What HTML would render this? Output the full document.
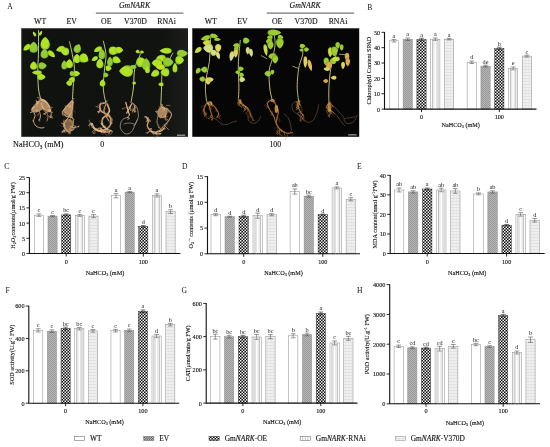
<!DOCTYPE html>
<html><head><meta charset="utf-8"><style>
html,body{margin:0;padding:0;background:#fff;width:550px;height:447px;overflow:hidden}
svg{display:block}
text{font-family:'Liberation Serif','Times New Roman',serif;fill:#111;stroke:#111;stroke-width:0.12px}
.tk{font-size:6.2px}
.sm{font-size:6.2px;stroke:none;fill:#1a1a1a}
.pl{font-size:7.6px;stroke:none}
.hd{font-size:7.8px}
.lg{font-size:7.4px}
</style></head><body>
<svg width="550" height="447" viewBox="0 0 550 447">

<defs>
<pattern id="pWT" width="4" height="4" patternUnits="userSpaceOnUse"><rect width="4" height="4" fill="#fff"/></pattern>
<pattern id="pEV" width="2" height="2" patternUnits="userSpaceOnUse"><rect width="2" height="2" fill="#b6b6b6"/><rect width="1" height="1" fill="#989898"/><rect x="1" y="1" width="1" height="1" fill="#989898"/></pattern>
<pattern id="pOE" width="3" height="3" patternUnits="userSpaceOnUse"><rect width="3" height="3" fill="#0a0a0a"/><rect width="1.5" height="1.5" fill="#f4f4f4"/><rect x="1.5" y="1.5" width="1.5" height="1.5" fill="#f4f4f4"/></pattern>
<pattern id="pEVL" width="1.6" height="1.6" patternUnits="userSpaceOnUse" patternTransform="rotate(45)"><rect width="1.6" height="1.6" fill="#c8c8c8"/><rect width="0.8" height="1.6" fill="#555"/></pattern>
<pattern id="pRN" width="9.8" height="4" patternUnits="userSpaceOnUse" x="0"><rect width="9.8" height="4" fill="#fff"/></pattern>
<pattern id="pVD" width="3" height="3" patternUnits="userSpaceOnUse"><rect width="3" height="3" fill="#f0f0f0"/><rect width="3" height="0.6" fill="#d8d8d8"/><rect width="0.5" height="3" fill="#e4e4e4"/></pattern>
</defs>

<defs>
<radialGradient id="lgC" cx="50%" cy="45%" r="60%"><stop offset="0" stop-color="#b0e228"/><stop offset="0.6" stop-color="#b0e228"/><stop offset="1" stop-color="#74ac18"/></radialGradient>
<radialGradient id="lgC2" cx="50%" cy="45%" r="60%"><stop offset="0" stop-color="#94cc34"/><stop offset="0.6" stop-color="#94cc34"/><stop offset="1" stop-color="#5a961e"/></radialGradient>
<radialGradient id="lgCY" cx="50%" cy="45%" r="60%"><stop offset="0" stop-color="#c4e61c"/><stop offset="0.6" stop-color="#c4e61c"/><stop offset="1" stop-color="#8cb410"/></radialGradient>
<radialGradient id="lgG" cx="50%" cy="45%" r="60%"><stop offset="0" stop-color="#9ccc30"/><stop offset="0.6" stop-color="#9ccc30"/><stop offset="1" stop-color="#5e8c18"/></radialGradient>
<radialGradient id="lgYG" cx="50%" cy="45%" r="60%"><stop offset="0" stop-color="#c8dc3c"/><stop offset="0.6" stop-color="#c8dc3c"/><stop offset="1" stop-color="#8c9a20"/></radialGradient>
<radialGradient id="lgY" cx="50%" cy="45%" r="60%"><stop offset="0" stop-color="#dcd660"/><stop offset="0.6" stop-color="#dcd660"/><stop offset="1" stop-color="#a09830"/></radialGradient>
<radialGradient id="lgPY" cx="50%" cy="45%" r="60%"><stop offset="0" stop-color="#d6de84"/><stop offset="0.6" stop-color="#d6de84"/><stop offset="1" stop-color="#a0a850"/></radialGradient>
<radialGradient id="lgO" cx="50%" cy="45%" r="60%"><stop offset="0" stop-color="#d8ac50"/><stop offset="0.6" stop-color="#d8ac50"/><stop offset="1" stop-color="#a07428"/></radialGradient>
<radialGradient id="lgYO" cx="50%" cy="45%" r="60%"><stop offset="0" stop-color="#dcbc5c"/><stop offset="0.6" stop-color="#dcbc5c"/><stop offset="1" stop-color="#a88030"/></radialGradient>
<filter id="soft" x="-5%" y="-5%" width="110%" height="110%"><feGaussianBlur stdDeviation="0.42"/></filter>
<filter id="rootblur" x="-20%" y="-20%" width="140%" height="140%"><feGaussianBlur stdDeviation="0.35"/></filter>
</defs>
<linearGradient id="bg1" x1="0" x2="1" y1="0" y2="0"><stop offset="0" stop-color="#141614"/><stop offset="0.08" stop-color="#0f120f"/><stop offset="0.85" stop-color="#111311"/><stop offset="1" stop-color="#1c1e1c"/></linearGradient>
<rect x="21.3" y="28.2" width="166.7" height="108.6" fill="url(#bg1)"/>
<rect x="192.3" y="28.2" width="166.9" height="108.6" fill="#060607"/>
<path d="M21.3 28.6H188M192.3 28.6H359.2" stroke="#5a5a5a" stroke-width="0.8"/>
<g filter="url(#soft)">
<g filter="url(#rootblur)">
<path d="M40.8 99C41.42 99.13 43.22 99.05 44.5 99.8C45.78 100.55 47.42 102.05 48.5 103.5C49.58 104.95 50.67 107.08 51 108.5C51.33 109.92 51.25 111.5 50.5 112C49.75 112.5 47.75 111.92 46.5 111.5C45.25 111.08 44.25 109.5 43 109.5C41.75 109.5 40.42 111 39 111.5C37.58 112 35.8 112.58 34.5 112.5C33.2 112.42 31.53 111.92 31.2 111C30.87 110.08 31.62 108.42 32.5 107C33.38 105.58 35.12 103.83 36.5 102.5C37.88 101.17 40.08 99.58 40.8 99Z" fill="#c89c6e" opacity="0.85"/>
<path d="M33 111C33.33 111.75 34.92 113.83 35 115.5C35.08 117.17 33.33 119.25 33.5 121C33.67 122.75 34.75 124.83 36 126C37.25 127.17 39.67 127.75 41 128C42.33 128.25 43.5 127.58 44 127.5" stroke="#d4a474" stroke-width="1" fill="none" stroke-linecap="round"/>
<path d="M39.5 111.5C39.67 112.25 40.5 114.58 40.5 116C40.5 117.42 39.67 119.33 39.5 120" stroke="#d4a474" stroke-width="0.9" fill="none" stroke-linecap="round"/>
<path d="M46 111.5C46.33 112.25 47.83 114.42 48 116C48.17 117.58 47.17 120.17 47 121" stroke="#bc8e62" stroke-width="0.9" fill="none" stroke-linecap="round"/>
<path d="M50.5 110C50.67 110.75 51.58 113.17 51.5 114.5C51.42 115.83 50.25 117.42 50 118" stroke="#bc8e62" stroke-width="0.8" fill="none" stroke-linecap="round"/>
<path d="M40.8 99C40.33 99.67 38.97 101.83 38 103C37.03 104.17 36 105 35 106C34 107 32.5 108.5 32 109" stroke="#e0b684" stroke-width="1.1" fill="none" stroke-linecap="round"/>
<path d="M41 99C41.67 99.33 43.67 99.83 45 101C46.33 102.17 48.08 104.33 49 106C49.92 107.67 50.25 110.17 50.5 111" stroke="#e0b684" stroke-width="1.1" fill="none" stroke-linecap="round"/>
<path d="M41 99.5C41.08 100.25 41.17 102.58 41.5 104C41.83 105.42 42.75 107.33 43 108" stroke="#e0b684" stroke-width="1" fill="none" stroke-linecap="round"/>
<path d="M48.37 117C48.05 116.82 46.49 115.96 46.45 115.92C46.41 115.88 47.64 116.63 48.12 116.76C48.6 116.88 49.14 116.68 49.34 116.66" stroke="#6a4a30" stroke-width="0.83" fill="none" stroke-linecap="round" opacity="0.9"/>
<path d="M38.2 110.88C37.84 110.73 36.27 110.09 36.02 109.97C35.77 109.85 36.55 109.8 36.7 110.15C36.85 110.51 36.89 111.79 36.93 112.12" stroke="#e0b888" stroke-width="0.77" fill="none" stroke-linecap="round" opacity="0.9"/>
<path d="M45.77 101.04C45.43 101.16 44.34 101.77 43.7 101.75C43.07 101.73 42.42 101.22 41.98 100.92C41.54 100.62 41.21 100.11 41.06 99.95" stroke="#e0b888" stroke-width="0.83" fill="none" stroke-linecap="round" opacity="0.9"/>
<path d="M32.14 112.28C31.81 112.29 30.35 112.31 30.17 112.36C30 112.41 30.89 112.63 31.09 112.58C31.29 112.54 31.33 112.15 31.38 112.06" stroke="#eac494" stroke-width="0.6" fill="none" stroke-linecap="round" opacity="0.9"/>
<path d="M40.5 100.39C40.69 100.26 41.63 99.87 41.63 99.59C41.64 99.32 41.03 98.63 40.52 98.74C40.01 98.85 38.9 100 38.58 100.25" stroke="#d0a070" stroke-width="0.76" fill="none" stroke-linecap="round" opacity="0.9"/>
<path d="M50.34 109.07C50.51 108.95 51.09 108.58 51.36 108.32C51.64 108.06 51.95 107.73 51.99 107.51C52.04 107.3 51.7 107.12 51.65 107.04" stroke="#eac494" stroke-width="0.84" fill="none" stroke-linecap="round" opacity="0.9"/>
<path d="M48.93 106.85C48.58 106.75 46.8 106.24 46.82 106.29C46.83 106.33 48.58 107.17 49 107.13C49.42 107.1 49.28 106.25 49.34 106.08" stroke="#d0a070" stroke-width="0.55" fill="none" stroke-linecap="round" opacity="0.9"/>
<path d="M36.53 103.33C36.77 103.35 38.05 103.51 37.98 103.44C37.91 103.38 36.32 103.23 36.11 102.95C35.9 102.68 36.61 102 36.71 101.81" stroke="#eac494" stroke-width="0.62" fill="none" stroke-linecap="round" opacity="0.9"/>
<path d="M49.88 108.76C50.13 108.64 51.18 107.99 51.34 108.02C51.5 108.06 51.07 108.87 50.84 108.96C50.62 109.04 50.15 108.6 50.01 108.53" stroke="#6a4a30" stroke-width="0.56" fill="none" stroke-linecap="round" opacity="0.9"/>
<path d="M49.48 110.39C49.51 110.58 49.76 111.26 49.71 111.52C49.67 111.79 49.61 112.06 49.22 111.96C48.83 111.86 47.68 111.1 47.37 110.92" stroke="#e0b888" stroke-width="0.47" fill="none" stroke-linecap="round" opacity="0.9"/>
<path d="M37.22 103.61C37.04 103.88 36.25 104.98 36.15 105.21C36.04 105.45 36.74 104.84 36.57 105.01C36.4 105.19 35.38 106.05 35.14 106.26" stroke="#e0b888" stroke-width="0.51" fill="none" stroke-linecap="round" opacity="0.9"/>
<path d="M50.68 113.06C50.76 113.02 50.79 112.94 51.18 112.81C51.57 112.68 53.07 112.44 53.02 112.3C52.97 112.17 51.24 112.07 50.89 112.02" stroke="#bc9266" stroke-width="0.56" fill="none" stroke-linecap="round" opacity="0.9"/>
<path d="M32.53 120.61C32.58 120.48 32.89 119.67 32.85 119.85C32.8 120.03 31.99 121.21 32.24 121.68C32.49 122.16 34 122.54 34.35 122.72" stroke="#6a4a30" stroke-width="0.71" fill="none" stroke-linecap="round" opacity="0.9"/>
<path d="M39.77 121.27C39.75 121.27 39.82 121.46 39.66 121.29C39.5 121.11 38.9 120.54 38.83 120.2C38.76 119.86 39.19 119.41 39.26 119.25" stroke="#e0b888" stroke-width="0.78" fill="none" stroke-linecap="round" opacity="0.9"/>
<path d="M43.91 99.72C43.88 99.73 44.07 99.43 43.7 99.77C43.33 100.11 41.86 101.55 41.7 101.75C41.54 101.95 42.57 101.12 42.74 100.99" stroke="#eac494" stroke-width="0.61" fill="none" stroke-linecap="round" opacity="0.9"/>
<path d="M46.42 110.23C46.68 110.57 48.07 111.83 47.99 112.24C47.91 112.66 46.63 112.48 45.93 112.74C45.22 113 44.15 113.62 43.79 113.79" stroke="#bc9266" stroke-width="0.71" fill="none" stroke-linecap="round" opacity="0.9"/>
<path d="M39.52 97.77C39.23 97.72 38.17 97.51 37.83 97.45C37.48 97.38 37.2 97.19 37.46 97.37C37.71 97.55 39.05 98.34 39.37 98.53" stroke="#bc9266" stroke-width="0.65" fill="none" stroke-linecap="round" opacity="0.9"/>
<path d="M35.61 105.94C35.62 105.92 35.97 106.01 35.67 105.8C35.38 105.59 33.83 105 33.86 104.67C33.89 104.35 35.54 103.99 35.87 103.86" stroke="#6a4a30" stroke-width="0.75" fill="none" stroke-linecap="round" opacity="0.9"/>
<path d="M45.77 110.03C45.62 110.22 45.26 111.06 44.89 111.14C44.53 111.22 43.5 110.45 43.58 110.52C43.66 110.59 45.07 111.39 45.37 111.56" stroke="#bc9266" stroke-width="0.67" fill="none" stroke-linecap="round" opacity="0.9"/>
<path d="M40.28 99.5C40.06 99.54 38.95 99.4 38.95 99.76C38.96 100.12 39.8 101.34 40.3 101.67C40.8 102.01 41.69 101.76 41.97 101.78" stroke="#6a4a30" stroke-width="0.86" fill="none" stroke-linecap="round" opacity="0.9"/>
<path d="M50.41 114.49C50.66 114.77 51.49 115.56 51.89 116.18C52.29 116.79 52.83 117.97 52.82 118.21C52.81 118.44 52 117.68 51.84 117.58" stroke="#bc9266" stroke-width="0.66" fill="none" stroke-linecap="round" opacity="0.9"/>
<path d="M42.98 106.82C43.07 106.9 43.58 106.94 43.54 107.3C43.49 107.66 42.5 108.62 42.72 108.95C42.94 109.29 44.49 109.24 44.84 109.29" stroke="#e0b888" stroke-width="0.82" fill="none" stroke-linecap="round" opacity="0.9"/>
<path d="M36.12 104.62C36.27 104.75 37.02 104.99 37.04 105.36C37.05 105.74 36.69 106.73 36.2 106.86C35.7 106.98 34.43 106.24 34.08 106.12" stroke="#bc9266" stroke-width="0.54" fill="none" stroke-linecap="round" opacity="0.9"/>
<path d="M37.49 101.71C37.23 101.54 36.08 100.79 35.91 100.67C35.74 100.55 36.29 100.77 36.48 100.99C36.67 101.21 36.95 101.85 37.05 102.02" stroke="#eac494" stroke-width="0.88" fill="none" stroke-linecap="round" opacity="0.9"/>
<path d="M45.59 112.47C45.42 112.68 44.51 113.39 44.52 113.7C44.53 114.01 45.8 114.29 45.64 114.32C45.49 114.35 43.94 113.96 43.6 113.89" stroke="#eac494" stroke-width="0.69" fill="none" stroke-linecap="round" opacity="0.9"/>
<path d="M39 112.99C38.75 113.27 37.61 114.47 37.5 114.68C37.4 114.88 38.3 114 38.38 114.24C38.46 114.47 38.05 115.77 37.99 116.07" stroke="#bc9266" stroke-width="0.51" fill="none" stroke-linecap="round" opacity="0.9"/>
<path d="M50.09 109.66C49.73 109.77 48.17 110.14 47.92 110.33C47.67 110.53 48.25 110.76 48.59 110.84C48.94 110.92 49.76 110.81 50 110.81" stroke="#eac494" stroke-width="0.74" fill="none" stroke-linecap="round" opacity="0.9"/>
<path d="M50.3 115.6C50.52 115.92 51.67 117.28 51.61 117.54C51.55 117.8 50.31 117.38 49.95 117.16C49.6 116.95 49.55 116.41 49.47 116.26" stroke="#eac494" stroke-width="0.69" fill="none" stroke-linecap="round" opacity="0.9"/>
</g>
<path d="M38.6 30C38.57 34.13 38.53 48.42 38.4 54.8C38.27 61.18 37.8 62.77 37.8 68.3C37.8 73.83 37.92 82.88 38.4 88C38.88 93.12 40.32 97.17 40.7 99" stroke="#c0c880" stroke-width="1.0" fill="none"/>
<path d="M-2.8 0C-2.8 -1.82 0.98 -1.82 2.8 0C0.98 1.82 -2.8 1.82 -2.8 0Z" transform="translate(34.4 33.8) rotate(-120)" fill="url(#lgC)"/>
<path d="M-2.8 0C-2.8 -1.82 0.98 -1.82 2.8 0C0.98 1.82 -2.8 1.82 -2.8 0Z" transform="translate(40.7 33.1) rotate(-60)" fill="url(#lgC)"/>
<path d="M-4.48 0C-4.48 -3.5 1.57 -3.5 4.48 0C1.57 3.5 -4.48 3.5 -4.48 0Z" transform="translate(26.8 47.6) rotate(140)" fill="url(#lgC)"/>
<path d="M-5.71 0C-5.71 -5.81 2 -5.81 5.71 0C2 5.81 -5.71 5.81 -5.71 0Z" transform="translate(33.7 47.1) rotate(-90)" fill="url(#lgC2)"/>
<path d="M-6.44 0C-6.44 -6.3 2.25 -6.3 6.44 0C2.25 6.3 -6.44 6.3 -6.44 0Z" transform="translate(45.2 43.3) rotate(-90)" fill="url(#lgC)"/>
<path d="M-4.98 0C-4.98 -5.32 1.74 -5.32 4.98 0C1.74 5.32 -4.98 5.32 -4.98 0Z" transform="translate(44.5 53.5) rotate(-90)" fill="url(#lgC2)"/>
<path d="M-4.65 0C-4.65 -3.5 1.63 -3.5 4.65 0C1.63 3.5 -4.65 3.5 -4.65 0Z" transform="translate(51.5 54.1) rotate(40)" fill="url(#lgC)"/>
<path d="M-4.26 0C-4.26 -4.9 1.49 -4.9 4.26 0C1.49 4.9 -4.26 4.9 -4.26 0Z" transform="translate(33.7 65.5) rotate(-90)" fill="url(#lgC)"/>
<path d="M-4.26 0C-4.26 -4.9 1.49 -4.9 4.26 0C1.49 4.9 -4.26 4.9 -4.26 0Z" transform="translate(42.6 65.8) rotate(0)" fill="url(#lgC2)"/>
<path d="M-4.98 0C-4.98 -3.15 1.74 -3.15 4.98 0C1.74 3.15 -4.98 3.15 -4.98 0Z" transform="translate(36.9 72.5) rotate(180)" fill="url(#lgC)"/>
<path d="M-4.26 0C-4.26 -4.2 1.49 -4.2 4.26 0C1.49 4.2 -4.26 4.2 -4.26 0Z" transform="translate(41.4 77) rotate(0)" fill="url(#lgC)"/>
<g filter="url(#rootblur)">
<path d="M72.3 100C72.58 100.33 73.97 100.67 74 102C74.03 103.33 72.7 106.17 72.5 108C72.3 109.83 72.88 111.42 72.8 113C72.72 114.58 72.8 117 72 117.5C71.2 118 69.33 116.75 68 116C66.67 115.25 64.87 113.83 64 113C63.13 112.17 62.47 112.17 62.8 111C63.13 109.83 64.42 107.83 66 106C67.58 104.17 71.25 101 72.3 100Z" fill="#c89c6e" opacity="0.85"/>
<path d="M65 120C65.83 119.83 68.58 118.67 70 119C71.42 119.33 73 120.5 73.5 122C74 123.5 73.67 126.33 73 128C72.33 129.67 70.83 131.67 69.5 132C68.17 132.33 66 131.17 65 130C64 128.83 63.5 126.67 63.5 125C63.5 123.33 64.75 120.83 65 120Z" fill="#c09468" opacity="0.65"/>
<path d="M73.7 98.6C72.92 99.5 70.53 102.27 69 104C67.47 105.73 65.58 107.58 64.5 109C63.42 110.42 62.25 111.33 62.5 112.5C62.75 113.67 64.42 115.17 66 116C67.58 116.83 71 117.25 72 117.5" stroke="#e0b684" stroke-width="1" fill="none" stroke-linecap="round"/>
<path d="M72.3 100.5C72.38 101.42 72.93 104.08 72.8 106C72.67 107.92 72.3 110 71.5 112C70.7 114 69.08 116.33 68 118C66.92 119.67 65.67 120.67 65 122C64.33 123.33 63.75 124.67 64 126C64.25 127.33 65.67 128.92 66.5 130C67.33 131.08 68.58 132.08 69 132.5" stroke="#d4a474" stroke-width="1.1" fill="none" stroke-linecap="round"/>
<path d="M72 117C72.25 117.67 73.5 119.5 73.5 121C73.5 122.5 72.67 124.5 72 126C71.33 127.5 69.92 129.33 69.5 130" stroke="#bc8e62" stroke-width="1" fill="none" stroke-linecap="round"/>
<path d="M64 120C63.92 120.83 63.33 123.5 63.5 125C63.67 126.5 64.75 128.33 65 129" stroke="#bc8e62" stroke-width="0.9" fill="none" stroke-linecap="round"/>
<path d="M70 126.5C70.67 126.67 72.58 127.5 74 127.5C75.42 127.5 77.75 126.67 78.5 126.5" stroke="#b09880" stroke-width="0.9" fill="none" stroke-linecap="round"/>
<path d="M66 129.5C66.67 129.83 68.67 131.58 70 131.5C71.33 131.42 73.33 129.42 74 129" stroke="#bc8e62" stroke-width="0.8" fill="none" stroke-linecap="round"/>
<path d="M70.54 127.39C70.24 127.71 68.8 128.82 68.73 129.32C68.66 129.81 70.1 129.83 70.14 130.37C70.17 130.9 69.12 132.17 68.92 132.53" stroke="#bc9266" stroke-width="0.88" fill="none" stroke-linecap="round" opacity="0.9"/>
<path d="M73.28 107.41C73.31 107.71 73.38 108.56 73.46 109.21C73.53 109.87 73.39 110.86 73.71 111.33C74.04 111.8 75.13 111.9 75.41 112.02" stroke="#6a4a30" stroke-width="0.82" fill="none" stroke-linecap="round" opacity="0.9"/>
<path d="M70.32 132C70.3 132.15 70.18 132.57 70.19 132.88C70.2 133.18 70.65 133.78 70.37 133.85C70.09 133.93 68.84 133.4 68.53 133.31" stroke="#eac494" stroke-width="0.61" fill="none" stroke-linecap="round" opacity="0.9"/>
<path d="M79.6 126.16C79.46 126.1 79.02 125.86 78.76 125.81C78.5 125.77 78.1 125.63 78.04 125.88C77.97 126.12 78.31 127.04 78.36 127.28" stroke="#d0a070" stroke-width="0.46" fill="none" stroke-linecap="round" opacity="0.9"/>
<path d="M66.37 113.64C66.02 113.82 64.97 114.64 64.28 114.74C63.6 114.84 62.53 114.09 62.27 114.23C62.02 114.38 62.67 115.37 62.75 115.59" stroke="#d0a070" stroke-width="0.53" fill="none" stroke-linecap="round" opacity="0.9"/>
<path d="M65.32 105.8C65.32 105.94 65.15 106.42 65.31 106.65C65.48 106.88 66.24 107.11 66.31 107.2C66.38 107.28 65.82 107.16 65.73 107.15" stroke="#bc9266" stroke-width="0.66" fill="none" stroke-linecap="round" opacity="0.9"/>
<path d="M64.57 124.22C64.92 124.28 66.32 124.63 66.72 124.6C67.11 124.57 66.7 124.19 66.93 124.02C67.16 123.85 67.91 123.64 68.1 123.57" stroke="#6a4a30" stroke-width="0.45" fill="none" stroke-linecap="round" opacity="0.9"/>
<path d="M70.75 130.9C70.51 131.15 69.57 132.22 69.34 132.41C69.1 132.6 69.62 132.1 69.34 132.05C69.06 131.99 67.93 132.07 67.65 132.08" stroke="#6a4a30" stroke-width="0.68" fill="none" stroke-linecap="round" opacity="0.9"/>
<path d="M70.28 105.15C70.41 105.1 71.18 104.69 71.02 104.9C70.87 105.1 69.62 106.04 69.34 106.36C69.07 106.68 69.35 106.75 69.35 106.83" stroke="#eac494" stroke-width="0.57" fill="none" stroke-linecap="round" opacity="0.9"/>
<path d="M64.83 130.72C64.8 130.87 64.98 131.48 64.61 131.61C64.24 131.75 62.68 131.39 62.61 131.54C62.54 131.69 63.94 132.35 64.21 132.51" stroke="#bc9266" stroke-width="0.77" fill="none" stroke-linecap="round" opacity="0.9"/>
<path d="M69.7 132.56C69.36 132.37 68.32 131.46 67.63 131.38C66.94 131.29 66.07 132.08 65.55 132.07C65.03 132.07 64.69 131.46 64.52 131.34" stroke="#d0a070" stroke-width="0.65" fill="none" stroke-linecap="round" opacity="0.9"/>
<path d="M62.68 112.87C62.99 113.22 64.03 114.56 64.53 114.94C65.03 115.33 65.42 114.82 65.67 115.17C65.93 115.51 66 116.72 66.06 117.03" stroke="#d0a070" stroke-width="0.71" fill="none" stroke-linecap="round" opacity="0.9"/>
<path d="M75.44 127.91C75.36 127.81 74.88 127.48 74.93 127.26C74.99 127.04 75.97 126.88 75.76 126.59C75.56 126.3 74.04 125.7 73.7 125.52" stroke="#e0b888" stroke-width="0.86" fill="none" stroke-linecap="round" opacity="0.9"/>
<path d="M61.9 112.28C62.11 112.48 63.2 113.34 63.19 113.5C63.17 113.65 61.83 113.07 61.82 113.22C61.81 113.36 62.89 114.16 63.11 114.35" stroke="#bc9266" stroke-width="0.73" fill="none" stroke-linecap="round" opacity="0.9"/>
<path d="M71.94 106.3C72.07 106.43 72.91 106.94 72.72 107.07C72.54 107.2 71.46 107.09 70.84 107.08C70.22 107.07 69.31 107.02 69 107.01" stroke="#e0b888" stroke-width="0.77" fill="none" stroke-linecap="round" opacity="0.9"/>
<path d="M64.09 125.78C64.2 126.11 64.77 127.61 64.79 127.76C64.81 127.9 64.3 126.79 64.2 126.66C64.09 126.53 64.15 126.92 64.14 126.97" stroke="#d0a070" stroke-width="0.48" fill="none" stroke-linecap="round" opacity="0.9"/>
<path d="M72.02 107.22C71.9 107.55 71.75 108.88 71.26 109.22C70.78 109.56 69.62 109.33 69.1 109.25C68.58 109.17 68.29 108.82 68.13 108.73" stroke="#bc9266" stroke-width="0.58" fill="none" stroke-linecap="round" opacity="0.9"/>
<path d="M65.26 113C65.4 112.9 66.01 112.32 66.13 112.36C66.25 112.39 65.75 113.13 65.97 113.22C66.2 113.3 67.23 112.93 67.48 112.87" stroke="#bc9266" stroke-width="0.8" fill="none" stroke-linecap="round" opacity="0.9"/>
<path d="M63.5 111.68C63.52 111.91 63.71 112.66 63.66 113.07C63.61 113.48 63.16 113.63 63.2 114.16C63.24 114.69 63.8 115.92 63.92 116.27" stroke="#6a4a30" stroke-width="0.71" fill="none" stroke-linecap="round" opacity="0.9"/>
<path d="M63.05 125.7C62.92 125.78 62.5 126.14 62.27 126.2C62.04 126.25 62.03 126.14 61.66 126.04C61.29 125.94 60.32 125.68 60.05 125.61" stroke="#6a4a30" stroke-width="0.51" fill="none" stroke-linecap="round" opacity="0.9"/>
<path d="M70.64 118.41C70.48 118.74 69.78 120.04 69.69 120.39C69.61 120.74 69.78 120.19 70.13 120.52C70.48 120.85 71.5 122.06 71.77 122.37" stroke="#eac494" stroke-width="0.52" fill="none" stroke-linecap="round" opacity="0.9"/>
<path d="M72.42 127.03C72.5 127.27 72.88 128.1 72.9 128.49C72.92 128.89 72.75 129.21 72.51 129.4C72.28 129.58 71.65 129.55 71.47 129.58" stroke="#bc9266" stroke-width="0.67" fill="none" stroke-linecap="round" opacity="0.9"/>
<path d="M64.7 130.92C64.46 130.84 63.67 130.15 63.25 130.42C62.82 130.69 62.33 132.34 62.17 132.52C62 132.7 62.25 131.67 62.27 131.5" stroke="#eac494" stroke-width="0.89" fill="none" stroke-linecap="round" opacity="0.9"/>
<path d="M72.42 126.91C72.68 127.18 73.97 127.97 74.02 128.54C74.08 129.11 73.31 130.06 72.75 130.34C72.19 130.61 71.01 130.21 70.66 130.18" stroke="#e0b888" stroke-width="0.81" fill="none" stroke-linecap="round" opacity="0.9"/>
<path d="M65.49 130.65C65.34 130.56 64.98 130.21 64.59 130.09C64.21 129.98 63.17 129.83 63.2 129.95C63.24 130.08 64.53 130.67 64.8 130.82" stroke="#e0b888" stroke-width="0.61" fill="none" stroke-linecap="round" opacity="0.9"/>
<path d="M72.11 117.35C72.13 117.51 71.99 118.1 72.23 118.36C72.47 118.62 73.23 118.73 73.55 118.88C73.87 119.03 74.05 119.2 74.15 119.27" stroke="#bc9266" stroke-width="0.83" fill="none" stroke-linecap="round" opacity="0.9"/>
<path d="M73.55 122.65C73.39 122.97 72.74 123.98 72.58 124.59C72.41 125.2 72.4 125.67 72.54 126.3C72.67 126.93 73.24 128.01 73.38 128.35" stroke="#bc9266" stroke-width="0.7" fill="none" stroke-linecap="round" opacity="0.9"/>
<path d="M63.82 125.76C64.07 125.63 65.39 125.27 65.31 125C65.24 124.74 64.02 124.48 63.39 124.17C62.76 123.86 61.86 123.33 61.56 123.16" stroke="#e0b888" stroke-width="0.87" fill="none" stroke-linecap="round" opacity="0.9"/>
</g>
<path d="M69.4 41.4C69.9 43.63 71.57 50.33 72.4 54.8C73.23 59.27 74.28 62.67 74.4 68.2C74.52 73.73 73.42 82.87 73.1 88C72.78 93.13 72.6 97.17 72.5 99" stroke="#c0c880" stroke-width="1.0" fill="none"/>
<path d="M-4.65 0C-4.65 -3.99 1.63 -3.99 4.65 0C1.63 3.99 -4.65 3.99 -4.65 0Z" transform="translate(60.5 49) rotate(165)" fill="url(#lgC)"/>
<path d="M-4.26 0C-4.26 -5.32 1.49 -5.32 4.26 0C1.49 5.32 -4.26 5.32 -4.26 0Z" transform="translate(64.9 51.5) rotate(180)" fill="url(#lgC)"/>
<path d="M-4.65 0C-4.65 -4.9 1.63 -4.9 4.65 0C1.63 4.9 -4.65 4.9 -4.65 0Z" transform="translate(77.6 48.4) rotate(-70)" fill="url(#lgC2)"/>
<path d="M-4.65 0C-4.65 -4.9 1.63 -4.9 4.65 0C1.63 4.9 -4.65 4.9 -4.65 0Z" transform="translate(77 58.5) rotate(-90)" fill="url(#lgC)"/>
<path d="M-4.98 0C-4.98 -6.23 1.74 -6.23 4.98 0C1.74 6.23 -4.98 6.23 -4.98 0Z" transform="translate(84 58.5) rotate(30)" fill="url(#lgC)"/>
<path d="M-4.65 0C-4.65 -3.99 1.63 -3.99 4.65 0C1.63 3.99 -4.65 3.99 -4.65 0Z" transform="translate(64.3 64.9) rotate(-90)" fill="url(#lgC2)"/>
<path d="M-4.65 0C-4.65 -4.9 1.63 -4.9 4.65 0C1.63 4.9 -4.65 4.9 -4.65 0Z" transform="translate(69.4 63.6) rotate(-90)" fill="url(#lgC)"/>
<path d="M-3.64 0C-3.64 -3.85 1.27 -3.85 3.64 0C1.27 3.85 -3.64 3.85 -3.64 0Z" transform="translate(76.5 73.6) rotate(0)" fill="url(#lgC)"/>
<path d="M-2.8 0C-2.8 -3.5 0.98 -3.5 2.8 0C0.98 3.5 -2.8 3.5 -2.8 0Z" transform="translate(72.4 73.6) rotate(0)" fill="url(#lgC2)"/>
<path d="M-3.08 0C-3.08 -3.85 1.08 -3.85 3.08 0C1.08 3.85 -3.08 3.85 -3.08 0Z" transform="translate(71.8 79.6) rotate(180)" fill="url(#lgC)"/>
<path d="M-3.08 0C-3.08 -3.85 1.08 -3.85 3.08 0C1.08 3.85 -3.08 3.85 -3.08 0Z" transform="translate(69.1 83) rotate(180)" fill="url(#lgC)"/>
<g filter="url(#rootblur)">
<path d="M105.9 103C105.08 103.08 102.02 102.83 101 103.5C99.98 104.17 99.8 105.75 99.8 107C99.8 108.25 99.97 109.83 101 111C102.03 112.17 104.5 113 106 114C107.5 115 109.17 115.67 110 117C110.83 118.33 111.17 120.33 111 122C110.83 123.67 110.17 125.67 109 127C107.83 128.33 106 129.5 104 130C102 130.5 98.92 130.58 97 130C95.08 129.42 93.5 127.58 92.5 126.5C91.5 125.42 91.25 124 91 123.5" stroke="#d4a474" stroke-width="1.59" fill="none" stroke-linecap="round"/>
<path d="M105.9 103C106.25 103.5 107.4 104.67 108 106C108.6 107.33 109.67 109.5 109.5 111C109.33 112.5 108.08 113.83 107 115C105.92 116.17 103.83 116.67 103 118C102.17 119.33 101.83 121.5 102 123C102.17 124.5 102.67 125.75 104 127C105.33 128.25 109 129.92 110 130.5" stroke="#e0b684" stroke-width="1.45" fill="none" stroke-linecap="round"/>
<path d="M92 124C92.5 124.83 93.33 127.75 95 129C96.67 130.25 99.5 131.17 102 131.5C104.5 131.83 108.67 131.08 110 131" stroke="#e0b684" stroke-width="1.89" fill="none" stroke-linecap="round"/>
<path d="M106 104C105.67 105 104 108 104 110C104 112 105.17 114.17 106 116C106.83 117.83 108.5 120.17 109 121" stroke="#bc8e62" stroke-width="1.16" fill="none" stroke-linecap="round"/>
<path d="M100 128C100.67 128.63 102.67 131.13 104 131.8C105.33 132.47 107.33 131.97 108 132" stroke="#d4a474" stroke-width="1.45" fill="none" stroke-linecap="round"/>
<path d="M103.37 131.23C103.59 131.53 104.37 132.57 104.7 133.05C105.03 133.54 104.99 133.78 105.37 134.12C105.75 134.46 106.72 134.94 106.99 135.1" stroke="#d0a070" stroke-width="0.51" fill="none" stroke-linecap="round" opacity="0.9"/>
<path d="M103.04 123.73C102.69 123.61 101.18 122.73 100.97 122.96C100.76 123.2 101.28 124.52 101.78 125.16C102.28 125.8 103.59 126.52 103.95 126.79" stroke="#e0b888" stroke-width="0.84" fill="none" stroke-linecap="round" opacity="0.9"/>
<path d="M105.17 109.29C105.13 109.33 105.25 109.23 104.95 109.57C104.65 109.92 103.73 111.12 103.36 111.35C102.99 111.58 102.83 111.02 102.73 110.95" stroke="#6a4a30" stroke-width="0.7" fill="none" stroke-linecap="round" opacity="0.9"/>
<path d="M108.51 107.17C108.61 107.34 109.13 107.89 109.12 108.19C109.11 108.5 108.46 108.93 108.44 109.02C108.43 109.1 108.94 108.76 109.03 108.71" stroke="#bc9266" stroke-width="0.7" fill="none" stroke-linecap="round" opacity="0.9"/>
<path d="M111.46 130.82C111.63 130.92 112.45 131.44 112.47 131.44C112.49 131.45 111.82 130.94 111.56 130.85C111.3 130.77 111.03 130.9 110.93 130.92" stroke="#eac494" stroke-width="0.72" fill="none" stroke-linecap="round" opacity="0.9"/>
<path d="M107.07 103.23C107.1 103.35 106.97 103.64 107.29 103.95C107.61 104.27 108.98 104.9 108.99 105.14C109 105.38 107.64 105.36 107.37 105.4" stroke="#bc9266" stroke-width="0.63" fill="none" stroke-linecap="round" opacity="0.9"/>
<path d="M109.77 132.1C109.57 132.18 108.62 132.46 108.56 132.6C108.51 132.73 109.47 132.64 109.43 132.91C109.4 133.18 108.53 133.99 108.35 134.2" stroke="#eac494" stroke-width="0.85" fill="none" stroke-linecap="round" opacity="0.9"/>
<path d="M103.55 110.62C103.65 110.71 103.92 110.78 104.13 111.19C104.34 111.59 104.55 112.8 104.82 113.05C105.08 113.3 105.56 112.72 105.71 112.66" stroke="#bc9266" stroke-width="0.55" fill="none" stroke-linecap="round" opacity="0.9"/>
<path d="M108.63 131.11C108.29 131.24 106.88 131.85 106.6 131.89C106.31 131.92 107.08 131.16 106.91 131.31C106.73 131.46 105.78 132.54 105.55 132.78" stroke="#6a4a30" stroke-width="0.5" fill="none" stroke-linecap="round" opacity="0.9"/>
<path d="M108 126.79C108.07 127.04 108.21 127.72 108.42 128.33C108.63 128.94 108.9 129.92 109.28 130.43C109.66 130.95 110.47 131.26 110.71 131.43" stroke="#6a4a30" stroke-width="0.45" fill="none" stroke-linecap="round" opacity="0.9"/>
<path d="M95.86 129.4C95.7 129.54 95.33 130.03 94.85 130.24C94.37 130.44 93.4 130.29 92.99 130.63C92.58 130.97 92.5 132 92.4 132.27" stroke="#e0b888" stroke-width="0.59" fill="none" stroke-linecap="round" opacity="0.9"/>
<path d="M105.99 115.41C106 115.48 105.93 115.78 106.06 115.82C106.2 115.86 107.03 115.58 106.81 115.63C106.59 115.68 105.09 116.05 104.75 116.13" stroke="#d0a070" stroke-width="0.78" fill="none" stroke-linecap="round" opacity="0.9"/>
<path d="M103.78 130.97C103.57 131.01 102.93 130.94 102.52 131.22C102.12 131.5 101.49 132.36 101.36 132.64C101.23 132.93 101.7 132.86 101.77 132.9" stroke="#eac494" stroke-width="0.64" fill="none" stroke-linecap="round" opacity="0.9"/>
<path d="M92.19 125.26C92.38 125.4 93.5 125.72 93.33 126.1C93.15 126.48 91.74 127.22 91.15 127.53C90.56 127.84 90.01 127.89 89.78 127.97" stroke="#6a4a30" stroke-width="0.63" fill="none" stroke-linecap="round" opacity="0.9"/>
<path d="M100.37 103.3C100.1 103.59 99.32 104.48 98.77 105.04C98.22 105.6 97.55 106.4 97.06 106.64C96.57 106.88 96.03 106.5 95.82 106.47" stroke="#bc9266" stroke-width="0.58" fill="none" stroke-linecap="round" opacity="0.9"/>
<path d="M89.88 123.08C89.84 123.38 89.31 124.74 89.63 124.86C89.95 124.98 91.4 124.11 91.78 123.81C92.17 123.51 91.91 123.18 91.94 123.05" stroke="#e0b888" stroke-width="0.6" fill="none" stroke-linecap="round" opacity="0.9"/>
<path d="M101.16 128.72C101.46 129.03 102.33 130.07 102.93 130.56C103.53 131.05 104.74 131.16 104.75 131.68C104.75 132.19 103.24 133.32 102.94 133.65" stroke="#e0b888" stroke-width="0.61" fill="none" stroke-linecap="round" opacity="0.9"/>
<path d="M104.96 108.64C104.77 108.91 104.19 109.74 103.81 110.26C103.43 110.77 102.66 111.57 102.66 111.73C102.66 111.88 103.63 111.28 103.82 111.19" stroke="#bc9266" stroke-width="0.73" fill="none" stroke-linecap="round" opacity="0.9"/>
<path d="M106.14 114.66C106.22 114.99 106.37 116.32 106.64 116.66C106.91 117 107.67 116.83 107.78 116.72C107.9 116.62 107.4 116.14 107.33 116.03" stroke="#6a4a30" stroke-width="0.58" fill="none" stroke-linecap="round" opacity="0.9"/>
<path d="M99.42 108.3C99.17 108.1 98.18 107.39 97.95 107.15C97.73 106.91 98.34 106.93 98.06 106.87C97.78 106.81 96.56 106.82 96.26 106.8" stroke="#bc9266" stroke-width="0.52" fill="none" stroke-linecap="round" opacity="0.9"/>
<path d="M106.52 116.6C106.83 116.43 108.35 115.69 108.36 115.54C108.37 115.39 106.96 115.67 106.58 115.72C106.2 115.77 106.17 115.83 106.09 115.85" stroke="#d0a070" stroke-width="0.8" fill="none" stroke-linecap="round" opacity="0.9"/>
<path d="M108.9 111.08C108.93 111.04 109.22 110.5 109.04 110.82C108.87 111.14 107.71 112.29 107.84 112.99C107.97 113.69 109.51 114.69 109.84 115.03" stroke="#eac494" stroke-width="0.64" fill="none" stroke-linecap="round" opacity="0.9"/>
<path d="M106.79 115.95C106.61 116.01 105.62 116.15 105.74 116.32C105.86 116.49 107.43 116.83 107.5 116.94C107.58 117.06 106.38 117.01 106.16 117.02" stroke="#bc9266" stroke-width="0.82" fill="none" stroke-linecap="round" opacity="0.9"/>
<path d="M106.12 101.6C106.35 101.5 107.59 100.98 107.53 101.01C107.48 101.05 106.22 101.38 105.78 101.81C105.35 102.25 105.08 103.32 104.94 103.62" stroke="#bc9266" stroke-width="0.71" fill="none" stroke-linecap="round" opacity="0.9"/>
<path d="M111 130.14C111.18 130.31 111.96 130.64 112.08 131.15C112.21 131.66 112.17 132.58 111.77 133.21C111.37 133.84 110.02 134.65 109.67 134.94" stroke="#d0a070" stroke-width="0.58" fill="none" stroke-linecap="round" opacity="0.9"/>
<path d="M108.96 129.16C108.96 129.49 109.14 130.71 108.96 131.11C108.79 131.51 108 131.55 107.9 131.56C107.8 131.58 108.29 131.25 108.37 131.19" stroke="#6a4a30" stroke-width="0.68" fill="none" stroke-linecap="round" opacity="0.9"/>
<path d="M103.85 127.78C103.73 127.7 103.59 127.21 103.14 127.33C102.7 127.45 101.55 128 101.17 128.51C100.78 129.03 100.9 130.1 100.85 130.42" stroke="#e0b888" stroke-width="0.5" fill="none" stroke-linecap="round" opacity="0.9"/>
<path d="M102.95 131.7C102.84 131.58 102.52 131.15 102.3 130.95C102.07 130.76 101.89 130.74 101.61 130.52C101.34 130.31 100.82 129.79 100.66 129.64" stroke="#d0a070" stroke-width="0.51" fill="none" stroke-linecap="round" opacity="0.9"/>
<path d="M110.29 115.67C110.39 115.82 110.8 116.16 110.91 116.54C111.03 116.93 110.68 117.72 110.96 117.98C111.25 118.23 112.34 118.06 112.62 118.07" stroke="#6a4a30" stroke-width="0.67" fill="none" stroke-linecap="round" opacity="0.9"/>
<path d="M104.04 125.7C104.3 125.8 105.52 126.18 105.62 126.29C105.72 126.41 105.09 126.45 104.65 126.39C104.22 126.32 103.28 125.97 103 125.88" stroke="#eac494" stroke-width="0.62" fill="none" stroke-linecap="round" opacity="0.9"/>
<path d="M100.6 108.3C100.45 108.62 100.21 109.72 99.72 110.25C99.22 110.78 98.06 111.2 97.63 111.48C97.2 111.75 97.23 111.84 97.15 111.91" stroke="#e0b888" stroke-width="0.49" fill="none" stroke-linecap="round" opacity="0.9"/>
<path d="M109.51 122.1C109.87 122.37 111.28 123.43 111.67 123.75C112.05 124.07 111.74 124.17 111.8 124.02C111.87 123.87 112.03 123.05 112.07 122.86" stroke="#e0b888" stroke-width="0.79" fill="none" stroke-linecap="round" opacity="0.9"/>
<path d="M90.89 122.7C90.8 122.62 90.72 122.49 90.39 122.22C90.05 121.95 88.99 121.44 88.89 121.08C88.78 120.71 89.61 120.22 89.76 120.04" stroke="#d0a070" stroke-width="0.65" fill="none" stroke-linecap="round" opacity="0.9"/>
<path d="M99.03 128.81C98.97 128.66 98.71 127.95 98.64 127.88C98.56 127.82 98.87 128.34 98.58 128.43C98.28 128.52 97.15 128.42 96.87 128.41" stroke="#e0b888" stroke-width="0.68" fill="none" stroke-linecap="round" opacity="0.9"/>
<path d="M103.84 118.75C103.54 118.99 102.48 119.98 102.04 120.19C101.6 120.39 101.5 119.77 101.18 120C100.86 120.22 100.31 121.28 100.13 121.54" stroke="#6a4a30" stroke-width="0.64" fill="none" stroke-linecap="round" opacity="0.9"/>
<path d="M96.34 130.65C96.04 130.82 95.11 131.21 94.57 131.66C94.02 132.12 92.98 133.15 93.07 133.38C93.17 133.61 94.78 133.1 95.12 133.04" stroke="#d0a070" stroke-width="0.73" fill="none" stroke-linecap="round" opacity="0.9"/>
<path d="M99.81 110.82C99.52 111.02 98.3 111.78 98.07 112.02C97.83 112.26 98.19 112.28 98.4 112.25C98.61 112.22 99.17 111.91 99.32 111.84" stroke="#eac494" stroke-width="0.83" fill="none" stroke-linecap="round" opacity="0.9"/>
<path d="M99.51 112.16C99.2 112.02 97.78 111.18 97.69 111.3C97.61 111.43 98.83 112.58 99 112.89C99.18 113.19 98.81 113.08 98.77 113.12" stroke="#d0a070" stroke-width="0.77" fill="none" stroke-linecap="round" opacity="0.9"/>
<path d="M92.06 123.23C91.81 123.54 91.13 124.79 90.53 125.11C89.92 125.43 88.58 124.91 88.41 125.14C88.24 125.37 89.33 126.26 89.52 126.48" stroke="#e0b888" stroke-width="0.52" fill="none" stroke-linecap="round" opacity="0.9"/>
<path d="M110.19 117.39C110.52 117.64 111.74 118.42 112.14 118.91C112.54 119.39 112.51 119.97 112.58 120.32C112.64 120.67 112.55 120.89 112.54 121" stroke="#d0a070" stroke-width="0.73" fill="none" stroke-linecap="round" opacity="0.9"/>
<path d="M106.8 102.69C106.72 103.01 106.48 104.43 106.33 104.59C106.18 104.76 106.15 103.93 105.89 103.67C105.63 103.41 104.95 103.15 104.76 103.04" stroke="#6a4a30" stroke-width="0.79" fill="none" stroke-linecap="round" opacity="0.9"/>
<path d="M101.85 103.32C101.88 103.55 101.82 104.23 102.01 104.67C102.2 105.12 102.54 105.66 102.99 106C103.44 106.34 104.42 106.58 104.71 106.7" stroke="#6a4a30" stroke-width="0.78" fill="none" stroke-linecap="round" opacity="0.9"/>
</g>
<path d="M103.3 40.7C103.75 43.05 105.78 50.22 106 54.8C106.22 59.38 105.05 62.67 104.6 68.2C104.15 73.73 103.13 82.38 103.3 88C103.47 93.62 105.22 99.58 105.6 101.9" stroke="#c0c880" stroke-width="1.0" fill="none"/>
<path d="M-4.48 0C-4.48 -3.5 1.57 -3.5 4.48 0C1.57 3.5 -4.48 3.5 -4.48 0Z" transform="translate(97.9 49.5) rotate(155)" fill="url(#lgC)"/>
<path d="M-5.32 0C-5.32 -4.55 1.86 -4.55 5.32 0C1.86 4.55 -5.32 4.55 -5.32 0Z" transform="translate(101.9 54.1) rotate(-90)" fill="url(#lgC2)"/>
<path d="M-5.32 0C-5.32 -5.6 1.86 -5.6 5.32 0C1.86 5.6 -5.32 5.6 -5.32 0Z" transform="translate(114 50.8) rotate(0)" fill="url(#lgC)"/>
<path d="M-3.92 0C-3.92 -4.55 1.37 -4.55 3.92 0C1.37 4.55 -3.92 4.55 -3.92 0Z" transform="translate(119.4 50.1) rotate(0)" fill="url(#lgC)"/>
<path d="M-3.64 0C-3.64 -2.8 1.27 -2.8 3.64 0C1.27 2.8 -3.64 2.8 -3.64 0Z" transform="translate(94.6 58.8) rotate(150)" fill="url(#lgC)"/>
<path d="M-4.93 0C-4.93 -4.9 1.72 -4.9 4.93 0C1.72 4.9 -4.93 4.9 -4.93 0Z" transform="translate(99.9 63.5) rotate(-90)" fill="url(#lgC)"/>
<path d="M-4.93 0C-4.93 -3.92 1.72 -3.92 4.93 0C1.72 3.92 -4.93 3.92 -4.93 0Z" transform="translate(110 61.5) rotate(-90)" fill="url(#lgC2)"/>
<path d="M-4.48 0C-4.48 -4.55 1.57 -4.55 4.48 0C1.57 4.55 -4.48 4.55 -4.48 0Z" transform="translate(116.7 60.2) rotate(20)" fill="url(#lgC)"/>
<path d="M-3.14 0C-3.14 -3.92 1.1 -3.92 3.14 0C1.1 3.92 -3.14 3.92 -3.14 0Z" transform="translate(108.6 68.2) rotate(0)" fill="url(#lgC)"/>
<path d="M-2.69 0C-2.69 -3.36 0.94 -3.36 2.69 0C0.94 3.36 -2.69 3.36 -2.69 0Z" transform="translate(106 74.9) rotate(0)" fill="url(#lgC2)"/>
<path d="M-3.64 0C-3.64 -3.92 1.27 -3.92 3.64 0C1.27 3.92 -3.64 3.92 -3.64 0Z" transform="translate(102.6 83) rotate(-90)" fill="url(#lgC)"/>
<g filter="url(#rootblur)">
<path d="M125.8 102.4C126 103.17 126.4 104.92 127 107C127.6 109.08 129 113.58 129.4 114.9" stroke="#e0b684" stroke-width="1.2" fill="none" stroke-linecap="round"/>
<path d="M132.1 103.3C131.67 104.08 130.4 106.37 129.5 108C128.6 109.63 127.17 112.25 126.7 113.1" stroke="#e0b684" stroke-width="1.2" fill="none" stroke-linecap="round"/>
<path d="M133.9 104.2C134.05 104.83 134.65 106.67 134.8 108C134.95 109.33 134.8 111.5 134.8 112.2" stroke="#d4a474" stroke-width="1" fill="none" stroke-linecap="round"/>
<path d="M132.5 103C133.08 103.5 135.12 104.77 136 106C136.88 107.23 137.4 108.62 137.8 110.4C138.2 112.18 138.62 114.85 138.4 116.7C138.18 118.55 137.25 120.02 136.5 121.5C135.75 122.98 134.33 124.92 133.9 125.6" stroke="#b09880" stroke-width="0.8" fill="none" stroke-linecap="round"/>
<path d="M127.6 117.6C127 117.75 125.03 117.9 124 118.5C122.97 119.1 122.02 120.12 121.4 121.2C120.78 122.28 120.45 123.82 120.3 125C120.15 126.18 120.13 127.22 120.5 128.3C120.87 129.38 121.75 130.6 122.5 131.5C123.25 132.4 124.08 133.32 125 133.7C125.92 134.08 127.12 133.95 128 133.8C128.88 133.65 129.55 133.35 130.3 132.8C131.05 132.25 131.9 131.4 132.5 130.5C133.1 129.6 133.32 128.65 133.9 127.4C134.48 126.15 135.4 124.33 136 123C136.6 121.67 137.25 120 137.5 119.4" stroke="#b09880" stroke-width="0.8" fill="none" stroke-linecap="round"/>
<path d="M124 123.9C124.83 123.75 127.35 123 129 123C130.65 123 133.08 123.75 133.9 123.9" stroke="#b09880" stroke-width="0.7" fill="none" stroke-linecap="round"/>
<path d="M129.4 114.9C129.17 115.25 128.3 116.55 128 117C127.7 117.45 127.67 117.5 127.6 117.6" stroke="#d4a474" stroke-width="0.9" fill="none" stroke-linecap="round"/>
<path d="M127.35 107.77C127.37 107.71 127.27 107.5 127.47 107.41C127.66 107.31 128.64 107.17 128.5 107.19C128.36 107.21 126.93 107.47 126.62 107.52" stroke="#bc9266" stroke-width="0.76" fill="none" stroke-linecap="round" opacity="0.9"/>
<path d="M133.58 105.43C133.41 105.72 132.85 106.64 132.54 107.19C132.23 107.74 131.97 108.32 131.73 108.73C131.49 109.15 131.22 109.53 131.12 109.69" stroke="#6a4a30" stroke-width="0.52" fill="none" stroke-linecap="round" opacity="0.9"/>
<path d="M135.3 111.53C134.94 111.37 133.43 110.91 133.14 110.56C132.85 110.22 133.66 109.36 133.56 109.46C133.46 109.56 132.73 110.88 132.57 111.16" stroke="#bc9266" stroke-width="0.63" fill="none" stroke-linecap="round" opacity="0.9"/>
<path d="M127.82 117.32C128.09 117.51 129.47 118.13 129.46 118.46C129.44 118.78 127.93 119.22 127.75 119.26C127.56 119.3 128.24 118.77 128.33 118.68" stroke="#e0b888" stroke-width="0.79" fill="none" stroke-linecap="round" opacity="0.9"/>
<path d="M134.84 107.08C134.81 107.01 134.45 106.62 134.63 106.62C134.82 106.63 136.02 106.78 135.95 107.12C135.87 107.47 134.49 108.44 134.2 108.71" stroke="#e0b888" stroke-width="0.58" fill="none" stroke-linecap="round" opacity="0.9"/>
<path d="M125.58 107.72C125.3 107.82 124.47 108.14 123.89 108.31C123.3 108.48 122.26 108.57 122.09 108.74C121.93 108.92 122.77 109.26 122.91 109.36" stroke="#bc9266" stroke-width="0.59" fill="none" stroke-linecap="round" opacity="0.9"/>
<path d="M134.61 108.29C134.31 108.36 133.32 108.34 132.83 108.7C132.34 109.06 131.54 110.31 131.67 110.44C131.8 110.57 133.28 109.63 133.6 109.47" stroke="#d0a070" stroke-width="0.67" fill="none" stroke-linecap="round" opacity="0.9"/>
<path d="M129.71 106.56C129.86 106.89 130.52 108.23 130.62 108.57C130.71 108.9 130.28 108.22 130.28 108.55C130.27 108.88 130.53 110.21 130.58 110.54" stroke="#eac494" stroke-width="0.61" fill="none" stroke-linecap="round" opacity="0.9"/>
<path d="M133.87 112.59C133.84 112.53 133.84 112.49 133.73 112.26C133.63 112.02 133.46 111 133.24 111.17C133.02 111.35 132.55 112.96 132.41 113.32" stroke="#6a4a30" stroke-width="0.68" fill="none" stroke-linecap="round" opacity="0.9"/>
<path d="M136.11 111.77C135.93 111.59 135.46 110.96 135.02 110.69C134.57 110.43 133.92 109.96 133.46 110.17C133 110.38 132.47 111.64 132.27 111.94" stroke="#eac494" stroke-width="0.53" fill="none" stroke-linecap="round" opacity="0.9"/>
</g>
<path d="M138.8 51.5C139.02 52.05 140.77 52.02 140.1 54.8C139.43 57.58 135.92 62.67 134.8 68.2C133.68 73.73 134.05 82.23 133.4 88C132.75 93.77 131.32 100.33 130.9 102.8" stroke="#c0c880" stroke-width="1.0" fill="none"/>
<path d="M-1.96 0C-1.96 -2.45 0.69 -2.45 1.96 0C0.69 2.45 -1.96 2.45 -1.96 0Z" transform="translate(137.4 51.5) rotate(180)" fill="url(#lgC)"/>
<path d="M-1.96 0C-1.96 -2.1 0.69 -2.1 1.96 0C0.69 2.1 -1.96 2.1 -1.96 0Z" transform="translate(142.1 52.1) rotate(0)" fill="url(#lgC)"/>
<path d="M-7 0C-7 -7.7 2.45 -7.7 7 0C2.45 7.7 -7 7.7 -7 0Z" transform="translate(126 70.9) rotate(180)" fill="url(#lgC)"/>
<path d="M-3.64 0C-3.64 -2.8 1.27 -2.8 3.64 0C1.27 2.8 -3.64 2.8 -3.64 0Z" transform="translate(132.8 66.9) rotate(180)" fill="url(#lgC2)"/>
<path d="M-5.32 0C-5.32 -6.65 1.86 -6.65 5.32 0C1.86 6.65 -5.32 6.65 -5.32 0Z" transform="translate(141.5 62.2) rotate(0)" fill="url(#lgC)"/>
<path d="M-6.16 0C-6.16 -5.6 2.16 -5.6 6.16 0C2.16 5.6 -6.16 5.6 -6.16 0Z" transform="translate(146.2 64.2) rotate(-90)" fill="url(#lgC2)"/>
<path d="M-3.64 0C-3.64 -3.36 1.27 -3.36 3.64 0C1.27 3.36 -3.64 3.36 -3.64 0Z" transform="translate(147.5 69.6) rotate(-90)" fill="url(#lgC)"/>
<path d="M-1.96 0C-1.96 -2.1 0.69 -2.1 1.96 0C0.69 2.1 -1.96 2.1 -1.96 0Z" transform="translate(134 83) rotate(180)" fill="url(#lgC)"/>
<g filter="url(#rootblur)">
<path d="M160.8 105.5C161.33 105.75 162.88 106.33 164 107C165.12 107.67 167 108.25 167.5 109.5C168 110.75 167.58 113.17 167 114.5C166.42 115.83 165.17 116.92 164 117.5C162.83 118.08 161.08 118.42 160 118C158.92 117.58 157.83 116.33 157.5 115C157.17 113.67 157.45 111.58 158 110C158.55 108.42 160.33 106.25 160.8 105.5Z" fill="#c89c6e" opacity="0.85"/>
<path d="M167 108.6C167.75 109.5 171.18 112.05 171.5 114C171.82 115.95 170.08 118.37 168.9 120.3C167.72 122.23 165.9 123.97 164.4 125.6C162.9 127.23 161.4 128.9 159.9 130.1C158.4 131.3 156.15 132.35 155.4 132.8" stroke="#bc8e62" stroke-width="1.08" fill="none" stroke-linecap="round"/>
<path d="M145.6 116.7C146.05 117.3 148 118.67 148.3 120.3C148.6 121.93 146.95 124.72 147.4 126.5C147.85 128.28 149.67 129.8 151 131C152.33 132.2 153.77 133.25 155.4 133.7C157.03 134.15 159.9 133.7 160.8 133.7" stroke="#d4a474" stroke-width="1.32" fill="none" stroke-linecap="round"/>
<path d="M144.5 117C144.92 117 146.25 116.33 147 117C147.75 117.67 148.67 120.33 149 121" stroke="#bc8e62" stroke-width="0.96" fill="none" stroke-linecap="round"/>
<path d="M158 116C157.83 117 156.83 120 157 122C157.17 124 158.67 127 159 128" stroke="#b09880" stroke-width="0.84" fill="none" stroke-linecap="round"/>
<path d="M150 131C150.83 131.17 153.33 131.92 155 132C156.67 132.08 158.43 132.17 160 131.5C161.57 130.83 163.67 128.58 164.4 128" stroke="#e0b684" stroke-width="1.2" fill="none" stroke-linecap="round"/>
<path d="M165.4 114.88C165.36 114.91 165.54 114.95 165.2 115.1C164.86 115.26 163.76 115.58 163.35 115.82C162.94 116.07 162.84 116.44 162.73 116.56" stroke="#bc9266" stroke-width="0.63" fill="none" stroke-linecap="round" opacity="0.9"/>
<path d="M159.87 131.44C159.52 131.31 158.35 130.5 157.75 130.71C157.16 130.92 156.41 132.16 156.31 132.7C156.21 133.24 157.01 133.74 157.15 133.95" stroke="#eac494" stroke-width="0.69" fill="none" stroke-linecap="round" opacity="0.9"/>
<path d="M152.16 129.8C151.88 129.63 150.78 128.66 150.47 128.76C150.17 128.86 150.32 130.11 150.33 130.42C150.35 130.72 150.54 130.56 150.58 130.58" stroke="#6a4a30" stroke-width="0.55" fill="none" stroke-linecap="round" opacity="0.9"/>
<path d="M165.34 117.06C165.15 117.04 164.14 116.96 164.18 116.92C164.22 116.88 165.07 116.83 165.61 116.8C166.14 116.77 167.09 116.75 167.39 116.74" stroke="#bc9266" stroke-width="0.8" fill="none" stroke-linecap="round" opacity="0.9"/>
<path d="M158.92 126.85C158.92 126.86 158.65 126.59 158.89 126.93C159.13 127.26 159.96 128.59 160.39 128.88C160.81 129.17 161.27 128.69 161.45 128.66" stroke="#e0b888" stroke-width="0.65" fill="none" stroke-linecap="round" opacity="0.9"/>
<path d="M165.73 124.58C165.73 124.65 165.38 125.11 165.73 125.01C166.08 124.91 167.8 123.85 167.83 123.96C167.86 124.06 166.22 125.35 165.9 125.63" stroke="#6a4a30" stroke-width="0.88" fill="none" stroke-linecap="round" opacity="0.9"/>
<path d="M149.83 121.28C149.97 121.22 150.84 121.2 150.68 120.95C150.52 120.7 149.28 119.81 148.85 119.78C148.43 119.75 148.24 120.62 148.12 120.78" stroke="#bc9266" stroke-width="0.65" fill="none" stroke-linecap="round" opacity="0.9"/>
<path d="M164.76 126.22C164.83 126.19 164.87 125.85 165.18 126.08C165.48 126.31 166.07 127.04 166.59 127.6C167.12 128.16 168.03 129.13 168.32 129.43" stroke="#e0b888" stroke-width="0.85" fill="none" stroke-linecap="round" opacity="0.9"/>
<path d="M161.15 106.73C160.78 106.67 159.33 106.35 158.96 106.38C158.6 106.41 159.09 106.89 158.96 106.92C158.83 106.95 158.32 106.61 158.19 106.55" stroke="#6a4a30" stroke-width="0.59" fill="none" stroke-linecap="round" opacity="0.9"/>
<path d="M158.51 131.07C158.31 131.39 157.24 132.53 157.3 133.01C157.36 133.5 158.6 133.49 158.86 133.99C159.13 134.49 158.88 135.67 158.89 136.01" stroke="#6a4a30" stroke-width="0.63" fill="none" stroke-linecap="round" opacity="0.9"/>
<path d="M146.91 125.95C146.88 126.09 146.67 126.56 146.72 126.83C146.78 127.1 147.43 127.13 147.24 127.58C147.05 128.03 145.85 129.2 145.58 129.53" stroke="#6a4a30" stroke-width="0.45" fill="none" stroke-linecap="round" opacity="0.9"/>
<path d="M151.63 130.89C151.38 130.8 150.35 130.29 150.13 130.35C149.91 130.41 150.42 131.07 150.32 131.25C150.23 131.43 149.67 131.4 149.54 131.43" stroke="#6a4a30" stroke-width="0.74" fill="none" stroke-linecap="round" opacity="0.9"/>
<path d="M165.24 106.77C165.22 106.66 164.97 105.97 165.09 106.1C165.22 106.23 165.97 107.01 166.01 107.55C166.04 108.08 165.42 109 165.3 109.29" stroke="#6a4a30" stroke-width="0.75" fill="none" stroke-linecap="round" opacity="0.9"/>
<path d="M162.59 117.01C162.78 117.01 163.77 116.96 163.73 117.03C163.69 117.09 162.22 117.22 162.35 117.41C162.48 117.6 164.17 118.06 164.53 118.19" stroke="#d0a070" stroke-width="0.49" fill="none" stroke-linecap="round" opacity="0.9"/>
<path d="M164.79 114.39C164.48 114.69 163.26 116 162.9 116.19C162.55 116.38 162.41 115.66 162.66 115.53C162.9 115.41 164.09 115.45 164.37 115.43" stroke="#6a4a30" stroke-width="0.84" fill="none" stroke-linecap="round" opacity="0.9"/>
<path d="M164 124.78C164.18 124.67 164.7 124.38 165.06 124.16C165.42 123.94 166.22 123.21 166.16 123.46C166.1 123.7 164.96 125.28 164.72 125.64" stroke="#bc9266" stroke-width="0.66" fill="none" stroke-linecap="round" opacity="0.9"/>
<path d="M155.2 133.47C155.51 133.82 156.94 134.9 157.07 135.59C157.19 136.28 156.49 137.28 155.95 137.61C155.42 137.93 154.21 137.55 153.86 137.54" stroke="#d0a070" stroke-width="0.47" fill="none" stroke-linecap="round" opacity="0.9"/>
<path d="M159.48 110.34C159.45 110.15 159.37 109.36 159.3 109.24C159.24 109.12 158.91 109.53 159.09 109.62C159.26 109.7 160.15 109.72 160.36 109.74" stroke="#bc9266" stroke-width="0.63" fill="none" stroke-linecap="round" opacity="0.9"/>
<path d="M166.4 105.55C166.52 105.53 166.71 105.45 167.14 105.42C167.57 105.38 168.49 105.29 168.95 105.34C169.41 105.39 169.72 105.67 169.87 105.73" stroke="#e0b888" stroke-width="0.55" fill="none" stroke-linecap="round" opacity="0.9"/>
<path d="M148.01 121.15C147.94 121.02 147.71 120.48 147.57 120.32C147.42 120.17 146.9 119.97 147.12 120.25C147.34 120.53 148.6 121.71 148.89 122" stroke="#eac494" stroke-width="0.53" fill="none" stroke-linecap="round" opacity="0.9"/>
<path d="M160.2 126.86C160.49 127.05 161.79 127.69 161.9 128C162.01 128.32 160.75 128.75 160.89 128.76C161.03 128.77 162.43 128.19 162.74 128.07" stroke="#6a4a30" stroke-width="0.56" fill="none" stroke-linecap="round" opacity="0.9"/>
<path d="M150.94 131.05C150.67 130.99 149.76 130.38 149.27 130.68C148.79 130.97 148.44 132.49 148.03 132.81C147.62 133.13 147 132.62 146.8 132.59" stroke="#bc9266" stroke-width="0.77" fill="none" stroke-linecap="round" opacity="0.9"/>
<path d="M161.25 106.03C161.43 106.37 162.16 107.79 162.32 108.06C162.47 108.33 161.98 107.7 162.19 107.63C162.39 107.56 163.3 107.63 163.52 107.63" stroke="#eac494" stroke-width="0.62" fill="none" stroke-linecap="round" opacity="0.9"/>
<path d="M164.86 117.82C164.86 118.16 164.68 119.42 164.85 119.88C165.02 120.35 165.47 120.6 165.88 120.62C166.29 120.65 167.08 120.13 167.32 120.03" stroke="#6a4a30" stroke-width="0.77" fill="none" stroke-linecap="round" opacity="0.9"/>
<path d="M156.15 121.99C156.5 122.28 157.66 123.13 158.27 123.69C158.87 124.25 159.52 125.07 159.75 125.36C159.99 125.64 159.7 125.41 159.69 125.42" stroke="#6a4a30" stroke-width="0.74" fill="none" stroke-linecap="round" opacity="0.9"/>
<path d="M148.35 117.18C148.37 117.42 148.25 118.16 148.49 118.6C148.72 119.04 149.45 119.36 149.76 119.82C150.06 120.29 150.2 121.12 150.29 121.38" stroke="#e0b888" stroke-width="0.57" fill="none" stroke-linecap="round" opacity="0.9"/>
<path d="M163.57 125.16C163.49 125.25 163.11 125.5 163.1 125.73C163.09 125.96 163.56 126.39 163.5 126.52C163.43 126.66 162.82 126.55 162.69 126.55" stroke="#6a4a30" stroke-width="0.87" fill="none" stroke-linecap="round" opacity="0.9"/>
<path d="M168.25 110.76C168.23 110.98 168.11 111.94 168.14 112.09C168.18 112.24 168.25 111.56 168.45 111.66C168.65 111.77 169.17 112.57 169.32 112.75" stroke="#d0a070" stroke-width="0.65" fill="none" stroke-linecap="round" opacity="0.9"/>
<path d="M146.99 119.07C147.08 119.29 147.44 120.13 147.56 120.4C147.69 120.67 147.95 120.53 147.72 120.68C147.49 120.83 146.45 121.2 146.2 121.3" stroke="#e0b888" stroke-width="0.87" fill="none" stroke-linecap="round" opacity="0.9"/>
<path d="M163.94 126.96C164.22 127.3 165.68 128.61 165.63 129.04C165.58 129.48 164.23 129.33 163.64 129.55C163.05 129.76 162.34 130.21 162.08 130.34" stroke="#bc9266" stroke-width="0.55" fill="none" stroke-linecap="round" opacity="0.9"/>
<path d="M151.54 131.02C151.46 130.96 150.98 130.34 151.06 130.64C151.14 130.93 151.52 132.09 152.03 132.77C152.53 133.45 153.74 134.39 154.09 134.71" stroke="#eac494" stroke-width="0.75" fill="none" stroke-linecap="round" opacity="0.9"/>
<path d="M162.64 107.81C162.68 107.83 162.49 107.81 162.85 107.96C163.2 108.11 164.1 108.6 164.76 108.71C165.41 108.81 166.43 108.6 166.77 108.58" stroke="#e0b888" stroke-width="0.84" fill="none" stroke-linecap="round" opacity="0.9"/>
<path d="M151.05 129.54C150.87 129.42 149.82 128.98 149.98 128.82C150.14 128.66 152 128.52 152.03 128.58C152.06 128.64 150.46 129.06 150.15 129.16" stroke="#d0a070" stroke-width="0.75" fill="none" stroke-linecap="round" opacity="0.9"/>
<path d="M163.54 108.83C163.43 108.73 163.21 108.47 162.87 108.24C162.54 108 161.91 107.37 161.54 107.42C161.17 107.47 160.79 108.36 160.64 108.54" stroke="#d0a070" stroke-width="0.51" fill="none" stroke-linecap="round" opacity="0.9"/>
<path d="M157.39 111.35C157.43 111.29 157.98 110.96 157.68 111C157.37 111.03 155.63 111.23 155.57 111.55C155.52 111.87 157.05 112.69 157.34 112.92" stroke="#e0b888" stroke-width="0.9" fill="none" stroke-linecap="round" opacity="0.9"/>
<path d="M163.78 106.94C163.86 107.11 164.02 107.53 164.25 107.94C164.47 108.36 165.29 109.01 165.11 109.42C164.93 109.83 163.48 110.24 163.15 110.41" stroke="#e0b888" stroke-width="0.9" fill="none" stroke-linecap="round" opacity="0.9"/>
<path d="M164.86 117.31C165.06 117.34 165.98 117.12 166.09 117.49C166.19 117.86 165.24 119.17 165.5 119.53C165.75 119.9 167.27 119.66 167.62 119.69" stroke="#eac494" stroke-width="0.62" fill="none" stroke-linecap="round" opacity="0.9"/>
<path d="M150.33 132.22C150.14 132.08 149.69 131.2 149.19 131.43C148.68 131.67 147.82 133.42 147.29 133.63C146.76 133.84 146.22 132.85 146.01 132.69" stroke="#eac494" stroke-width="0.55" fill="none" stroke-linecap="round" opacity="0.9"/>
<path d="M165 114.78C165.04 114.82 165.13 114.68 165.22 115C165.3 115.32 165.82 116.62 165.52 116.71C165.21 116.8 163.74 115.73 163.39 115.53" stroke="#e0b888" stroke-width="0.88" fill="none" stroke-linecap="round" opacity="0.9"/>
<path d="M162.23 104.54C162.16 104.82 161.75 106.09 161.84 106.19C161.93 106.29 162.89 105.46 162.77 105.14C162.64 104.83 161.36 104.43 161.08 104.29" stroke="#d0a070" stroke-width="0.86" fill="none" stroke-linecap="round" opacity="0.9"/>
</g>
<path d="M173 52.8C172.1 54.48 169.38 59.65 167.6 62.9C165.82 66.15 163.3 68.12 162.3 72.3C161.3 76.48 161.85 82.45 161.6 88C161.35 93.55 160.93 102.67 160.8 105.6" stroke="#c0c880" stroke-width="1.0" fill="none"/>
<path d="M-4.93 0C-4.93 -4.55 1.72 -4.55 4.93 0C1.72 4.55 -4.93 4.55 -4.93 0Z" transform="translate(160.9 58.2) rotate(180)" fill="url(#lgC)"/>
<path d="M-6.16 0C-6.16 -3.92 2.16 -3.92 6.16 0C2.16 3.92 -6.16 3.92 -6.16 0Z" transform="translate(165.6 50.8) rotate(180)" fill="url(#lgC)"/>
<path d="M-5.6 0C-5.6 -4.9 1.96 -4.9 5.6 0C1.96 4.9 -5.6 4.9 -5.6 0Z" transform="translate(182.4 53.5) rotate(0)" fill="url(#lgC2)"/>
<path d="M-5.32 0C-5.32 -5.6 1.86 -5.6 5.32 0C1.86 5.6 -5.32 5.6 -5.32 0Z" transform="translate(156.9 62.9) rotate(180)" fill="url(#lgC)"/>
<path d="M-5.32 0C-5.32 -6.16 1.86 -6.16 5.32 0C1.86 6.16 -5.32 6.16 -5.32 0Z" transform="translate(168.3 62.2) rotate(0)" fill="url(#lgC2)"/>
<path d="M-4.48 0C-4.48 -5.6 1.57 -5.6 4.48 0C1.57 5.6 -4.48 5.6 -4.48 0Z" transform="translate(179.7 60.2) rotate(0)" fill="url(#lgC)"/>
<path d="M-4.48 0C-4.48 -3.92 1.57 -3.92 4.48 0C1.57 3.92 -4.48 3.92 -4.48 0Z" transform="translate(160.2 66.9) rotate(180)" fill="url(#lgCY)"/>
<path d="M-4.93 0C-4.93 -3.36 1.72 -3.36 4.93 0C1.72 3.36 -4.93 3.36 -4.93 0Z" transform="translate(175 67.6) rotate(-90)" fill="url(#lgC)"/>
<path d="M-4.48 0C-4.48 -4.55 1.57 -4.55 4.48 0C1.57 4.55 -4.48 4.55 -4.48 0Z" transform="translate(154.9 73.6) rotate(150)" fill="url(#lgC)"/>
<path d="M-4.48 0C-4.48 -5.6 1.57 -5.6 4.48 0C1.57 5.6 -4.48 5.6 -4.48 0Z" transform="translate(164.9 72.3) rotate(180)" fill="url(#lgC)"/>
<path d="M-2.69 0C-2.69 -2.8 0.94 -2.8 2.69 0C0.94 2.8 -2.69 2.8 -2.69 0Z" transform="translate(160.9 84.3) rotate(180)" fill="url(#lgC)"/>
<g filter="url(#rootblur)">
<path d="M209.8 116.3C210.33 116.58 211.82 117.42 213 118C214.18 118.58 215.65 118.9 216.9 119.8C218.15 120.7 218.92 122.6 220.5 123.4C222.08 124.2 224.43 124.8 226.4 124.6C228.37 124.4 230.53 122.8 232.3 122.2C234.07 121.6 236.22 121.2 237 121" stroke="#5e4430" stroke-width="0.8" fill="none"/>
<path d="M204.5 113C204.75 113.67 205.08 116 206 117C206.92 118 209.33 118.67 210 119" stroke="#5e4430" stroke-width="0.8" fill="none"/>
<path d="M207.5 102.1C207.08 102.75 205.6 104.82 205 106C204.4 107.18 203.98 108.12 203.9 109.2C203.82 110.28 204.1 111.52 204.5 112.5C204.9 113.48 206 114.67 206.3 115.1" stroke="#a4652c" stroke-width="1.15" fill="none" stroke-linecap="round"/>
<path d="M207.5 102.1C207.83 102.92 208.92 105.23 209.5 107C210.08 108.77 210.58 111.2 211 112.7C211.42 114.2 211.83 115.45 212 116" stroke="#a4652c" stroke-width="1.15" fill="none" stroke-linecap="round"/>
<path d="M208 102.5C208.75 102.92 211.22 104.08 212.5 105C213.78 105.92 214.67 106.52 215.7 108C216.73 109.48 218.5 112.32 218.7 113.9C218.9 115.48 217.2 116.9 216.9 117.5" stroke="#a4652c" stroke-width="1.15" fill="none" stroke-linecap="round"/>
<ellipse cx="209.8" cy="103.5" rx="2.6" ry="2.2" fill="#d8b868" opacity="0.85"/>
<path d="M211.57 105.85C211.41 105.91 211.04 105.84 210.65 106.19C210.26 106.54 209.43 107.43 209.22 107.97C209.01 108.5 209.35 109.15 209.38 109.38" stroke="#c07830" stroke-width="0.46" fill="none" stroke-linecap="round" opacity="0.9"/>
<path d="M203.86 113.01C203.9 113.29 203.92 114.27 204.08 114.72C204.24 115.18 204.71 115.45 204.8 115.73C204.89 116.01 204.65 116.29 204.62 116.4" stroke="#c07830" stroke-width="0.75" fill="none" stroke-linecap="round" opacity="0.9"/>
<path d="M204.38 109.05C204.17 109.43 203.44 110.93 203.14 111.35C202.83 111.77 202.89 111.19 202.55 111.57C202.21 111.95 201.34 113.27 201.1 113.6" stroke="#5a3c24" stroke-width="0.56" fill="none" stroke-linecap="round" opacity="0.9"/>
<path d="M208.05 102.44C208.34 102.59 209.44 102.87 209.75 103.35C210.07 103.83 209.84 104.66 209.94 105.34C210.04 106.02 210.3 107.06 210.37 107.41" stroke="#5a3c24" stroke-width="0.53" fill="none" stroke-linecap="round" opacity="0.9"/>
<path d="M203.91 105.57C203.78 105.6 203.44 105.69 203.15 105.76C202.87 105.83 202.48 105.71 202.19 106C201.9 106.3 201.52 107.28 201.39 107.53" stroke="#8a5a30" stroke-width="0.52" fill="none" stroke-linecap="round" opacity="0.9"/>
<path d="M206.8 101.77C207.06 102.03 208.05 103 208.37 103.32C208.7 103.65 208.56 103.6 208.77 103.73C208.97 103.87 209.46 104.06 209.59 104.13" stroke="#e0b070" stroke-width="0.56" fill="none" stroke-linecap="round" opacity="0.9"/>
<path d="M212.95 104.55C212.85 104.86 212.69 105.76 212.32 106.39C211.95 107.03 210.8 107.88 210.72 108.37C210.64 108.85 211.64 109.17 211.82 109.33" stroke="#c07830" stroke-width="0.53" fill="none" stroke-linecap="round" opacity="0.9"/>
<path d="M208.9 102.29C209 102.44 209.12 102.89 209.46 103.24C209.8 103.58 210.85 104.06 210.96 104.34C211.06 104.62 210.25 104.83 210.11 104.93" stroke="#5a3c24" stroke-width="0.67" fill="none" stroke-linecap="round" opacity="0.9"/>
<path d="M215.9 109.24C215.84 109.33 215.3 109.48 215.54 109.77C215.78 110.06 217.28 110.77 217.33 110.99C217.39 111.22 216.1 111.09 215.86 111.11" stroke="#c07830" stroke-width="0.51" fill="none" stroke-linecap="round" opacity="0.9"/>
<path d="M204.6 109.26C204.34 109.41 202.99 109.81 203.03 110.17C203.07 110.54 204.24 110.89 204.82 111.44C205.4 112 206.23 113.16 206.51 113.51" stroke="#c07830" stroke-width="0.72" fill="none" stroke-linecap="round" opacity="0.9"/>
<path d="M205.44 106.34C205.3 106.6 204.97 107.45 204.6 107.88C204.22 108.31 203.46 108.37 203.2 108.92C202.94 109.48 203.06 110.83 203.03 111.21" stroke="#b06a2a" stroke-width="0.56" fill="none" stroke-linecap="round" opacity="0.9"/>
<path d="M212.63 116.27C212.39 116.52 211.24 117.32 211.21 117.77C211.18 118.22 212.42 118.64 212.44 118.99C212.47 119.34 211.54 119.74 211.36 119.89" stroke="#d89848" stroke-width="0.67" fill="none" stroke-linecap="round" opacity="0.9"/>
<path d="M219.71 115.2C219.77 115.39 220.24 116.03 220.07 116.37C219.9 116.71 218.61 116.77 218.67 117.24C218.73 117.71 220.13 118.85 220.42 119.18" stroke="#d89848" stroke-width="0.47" fill="none" stroke-linecap="round" opacity="0.9"/>
<path d="M209.07 101.71C209.06 101.74 208.87 101.55 209.02 101.88C209.17 102.21 210.03 103.22 209.96 103.72C209.89 104.21 208.85 104.67 208.62 104.86" stroke="#5a3c24" stroke-width="0.52" fill="none" stroke-linecap="round" opacity="0.9"/>
<path d="M212.89 116.06C212.72 116.27 211.89 117.06 211.86 117.35C211.82 117.65 212.66 117.36 212.68 117.83C212.71 118.31 212.12 119.83 212.01 120.22" stroke="#b06a2a" stroke-width="0.6" fill="none" stroke-linecap="round" opacity="0.9"/>
<path d="M211.88 115.62C211.62 115.63 210.54 115.43 210.31 115.67C210.08 115.91 210.77 116.56 210.51 117.08C210.24 117.6 209.03 118.5 208.73 118.78" stroke="#c07830" stroke-width="0.54" fill="none" stroke-linecap="round" opacity="0.9"/>
</g>
<path d="M210.8 36C210.68 38.02 210.33 43.85 210.1 48.1C209.87 52.35 209.95 57.03 209.4 61.5C208.85 65.97 207.47 70.48 206.8 74.9C206.13 79.32 205.45 83.58 205.4 88C205.35 92.42 206.32 99.17 206.5 101.4" stroke="#c0b878" stroke-width="1.0" fill="none"/>
<path d="M-5.04 0C-5.04 -3.15 1.76 -3.15 5.04 0C1.76 3.15 -5.04 3.15 -5.04 0Z" transform="translate(205.4 38.1) rotate(160)" fill="url(#lgG)"/>
<path d="M-4.2 0C-4.2 -3.15 1.47 -3.15 4.2 0C1.47 3.15 -4.2 3.15 -4.2 0Z" transform="translate(214.1 36) rotate(10)" fill="url(#lgG)"/>
<path d="M-3.36 0C-3.36 -2.1 1.18 -2.1 3.36 0C1.18 2.1 -3.36 2.1 -3.36 0Z" transform="translate(217.5 39.4) rotate(0)" fill="url(#lgG)"/>
<path d="M-4.2 0C-4.2 -4.2 1.47 -4.2 4.2 0C1.47 4.2 -4.2 4.2 -4.2 0Z" transform="translate(206.8 42.8) rotate(180)" fill="url(#lgYG)"/>
<path d="M-5.04 0C-5.04 -6.3 1.76 -6.3 5.04 0C1.76 6.3 -5.04 6.3 -5.04 0Z" transform="translate(208.1 48.1) rotate(180)" fill="url(#lgPY)"/>
<path d="M-4.2 0C-4.2 -3.15 1.47 -3.15 4.2 0C1.47 3.15 -4.2 3.15 -4.2 0Z" transform="translate(198 50.1) rotate(140)" fill="url(#lgYG)"/>
<path d="M-4.2 0C-4.2 -4.2 1.47 -4.2 4.2 0C1.47 4.2 -4.2 4.2 -4.2 0Z" transform="translate(218.1 48.1) rotate(90)" fill="url(#lgY)"/>
<path d="M-3.36 0C-3.36 -4.2 1.18 -4.2 3.36 0C1.18 4.2 -3.36 4.2 -3.36 0Z" transform="translate(214.1 52.8) rotate(0)" fill="url(#lgPY)"/>
<path d="M-3.92 0C-3.92 -2.66 1.37 -2.66 3.92 0C1.37 2.66 -3.92 2.66 -3.92 0Z" transform="translate(218.1 55.5) rotate(70)" fill="url(#lgPY)"/>
<path d="M-3.36 0C-3.36 -4.2 1.18 -4.2 3.36 0C1.18 4.2 -3.36 4.2 -3.36 0Z" transform="translate(204.1 69.6) rotate(180)" fill="url(#lgG)"/>
<path d="M-3.36 0C-3.36 -3.15 1.18 -3.15 3.36 0C1.18 3.15 -3.36 3.15 -3.36 0Z" transform="translate(198 70.9) rotate(120)" fill="url(#lgG)"/>
<path d="M-2.91 0C-2.91 -3.64 1.02 -3.64 2.91 0C1.02 3.64 -2.91 3.64 -2.91 0Z" transform="translate(202.1 79) rotate(180)" fill="url(#lgG)"/>
<path d="M-3.75 0C-3.75 -4.2 1.31 -4.2 3.75 0C1.31 4.2 -3.75 4.2 -3.75 0Z" transform="translate(208.1 81) rotate(90)" fill="url(#lgY)"/>
<path d="M-2.91 0C-2.91 -3.15 1.02 -3.15 2.91 0C1.02 3.15 -2.91 3.15 -2.91 0Z" transform="translate(210.8 79.6) rotate(0)" fill="url(#lgY)"/>
<g filter="url(#rootblur)">
<path d="M247.6 113.9C247.67 114.42 247.8 115.82 248 117C248.2 118.18 247.87 119.93 248.8 121C249.73 122.07 252.02 123.4 253.6 123.4C255.18 123.4 257.13 122.18 258.3 121C259.47 119.82 260.22 117.08 260.6 116.3" stroke="#5e4430" stroke-width="0.8" fill="none"/>
<path d="M238.2 99.7C238.58 100.08 239.72 101.2 240.5 102C241.28 102.8 241.72 103.5 242.9 104.5C244.08 105.5 246.42 106.63 247.6 108C248.78 109.37 249.4 111.22 250 112.7C250.6 114.18 251 116.2 251.2 116.9" stroke="#a4652c" stroke-width="1.15" fill="none" stroke-linecap="round"/>
<path d="M239 101C239.5 101.5 240.95 103.03 242 104C243.05 104.97 244.22 105.8 245.3 106.8C246.38 107.8 247.97 109.47 248.5 110" stroke="#a4652c" stroke-width="1.15" fill="none" stroke-linecap="round"/>
<ellipse cx="240" cy="101.5" rx="1.5" ry="2.5" fill="#d89a40" opacity="0.85"/>
<path d="M240.13 103.33C240.02 103.56 239.41 104.17 239.49 104.66C239.57 105.16 240.26 105.91 240.6 106.3C240.94 106.68 241.37 106.85 241.53 106.96" stroke="#e0b070" stroke-width="0.74" fill="none" stroke-linecap="round" opacity="0.9"/>
<path d="M245.31 107.94C245.37 108.17 245.68 108.99 245.68 109.32C245.68 109.64 245.6 109.64 245.32 109.91C245.04 110.18 244.23 110.76 244.02 110.93" stroke="#e0b070" stroke-width="0.58" fill="none" stroke-linecap="round" opacity="0.9"/>
<path d="M250.64 116.9C250.91 117.14 251.89 117.86 252.25 118.39C252.61 118.91 252.49 119.68 252.83 120.04C253.17 120.39 254.06 120.45 254.31 120.53" stroke="#c07830" stroke-width="0.68" fill="none" stroke-linecap="round" opacity="0.9"/>
<path d="M245.53 106.6C245.52 106.68 245.64 106.87 245.48 107.13C245.33 107.39 244.68 107.73 244.6 108.18C244.52 108.63 244.94 109.56 245.01 109.84" stroke="#e0b070" stroke-width="0.76" fill="none" stroke-linecap="round" opacity="0.9"/>
<path d="M251.12 113.64C251.15 113.86 251.47 114.65 251.29 114.94C251.11 115.24 250.49 114.97 250.03 115.42C249.57 115.88 248.78 117.31 248.53 117.68" stroke="#8a5a30" stroke-width="0.48" fill="none" stroke-linecap="round" opacity="0.9"/>
<path d="M251.67 116.05C251.88 116.38 252.74 117.43 252.94 118.07C253.14 118.71 252.99 119.4 252.85 119.9C252.72 120.39 252.25 120.86 252.13 121.05" stroke="#8a5a30" stroke-width="0.63" fill="none" stroke-linecap="round" opacity="0.9"/>
<path d="M239.55 102.02C239.76 102.28 240.34 103.08 240.82 103.58C241.31 104.08 242.09 104.7 242.44 105.03C242.8 105.36 242.88 105.49 242.97 105.59" stroke="#e0b070" stroke-width="0.59" fill="none" stroke-linecap="round" opacity="0.9"/>
<path d="M249.39 110.67C249.31 111.02 248.94 112.14 248.93 112.78C248.92 113.43 249.47 114.13 249.34 114.52C249.21 114.92 248.36 115.05 248.17 115.15" stroke="#5a3c24" stroke-width="0.84" fill="none" stroke-linecap="round" opacity="0.9"/>
<path d="M239.91 103.3C240.19 103.57 241.01 104.36 241.57 104.92C242.14 105.48 243.03 106.32 243.28 106.65C243.54 106.99 243.15 106.9 243.13 106.95" stroke="#5a3c24" stroke-width="0.64" fill="none" stroke-linecap="round" opacity="0.9"/>
<path d="M247.61 110.65C247.68 110.75 248.18 110.92 248.01 111.27C247.85 111.61 246.96 112.3 246.61 112.71C246.27 113.11 246.05 113.55 245.94 113.72" stroke="#b06a2a" stroke-width="0.71" fill="none" stroke-linecap="round" opacity="0.9"/>
<path d="M246.16 107.62C246 107.71 245.47 107.88 245.21 108.17C244.95 108.45 244.82 108.82 244.57 109.34C244.32 109.86 243.85 110.96 243.7 111.29" stroke="#5a3c24" stroke-width="0.46" fill="none" stroke-linecap="round" opacity="0.9"/>
<path d="M239.54 102.04C239.39 102.09 238.98 101.93 238.67 102.32C238.35 102.71 237.6 103.8 237.66 104.38C237.72 104.96 238.8 105.56 239.03 105.8" stroke="#d89848" stroke-width="0.55" fill="none" stroke-linecap="round" opacity="0.9"/>
<path d="M242.35 104.96C242.51 105.3 243.07 106.55 243.29 107.02C243.51 107.49 243.69 107.56 243.67 107.77C243.64 107.98 243.24 108.19 243.15 108.28" stroke="#c07830" stroke-width="0.62" fill="none" stroke-linecap="round" opacity="0.9"/>
<path d="M239.52 101.22C239.47 101.3 239.19 101.25 239.26 101.7C239.33 102.16 240.01 103.4 239.94 103.95C239.87 104.5 239.01 104.83 238.83 105" stroke="#8a5a30" stroke-width="0.58" fill="none" stroke-linecap="round" opacity="0.9"/>
<path d="M237.72 100.35C237.92 100.61 238.58 101.51 238.91 101.9C239.23 102.3 239.78 102.52 239.68 102.69C239.58 102.87 238.53 102.89 238.3 102.93" stroke="#8a5a30" stroke-width="0.49" fill="none" stroke-linecap="round" opacity="0.9"/>
<path d="M239.65 100.59C239.38 100.87 238.38 101.88 238.02 102.27C237.67 102.66 237.31 102.77 237.51 102.93C237.71 103.09 238.93 103.19 239.22 103.24" stroke="#8a5a30" stroke-width="0.79" fill="none" stroke-linecap="round" opacity="0.9"/>
</g>
<path d="M240.3 40.1C240.07 42.55 239.23 50.12 238.9 54.8C238.57 59.48 238.3 62.67 238.3 68.2C238.3 73.73 238.88 82.93 238.9 88C238.92 93.07 238.48 96.83 238.4 98.6" stroke="#c0b878" stroke-width="1.0" fill="none"/>
<path d="M-3.36 0C-3.36 -4.2 1.18 -4.2 3.36 0C1.18 4.2 -3.36 4.2 -3.36 0Z" transform="translate(246.3 40.7) rotate(0)" fill="url(#lgG)"/>
<path d="M-3.36 0C-3.36 -3.15 1.18 -3.15 3.36 0C1.18 3.15 -3.36 3.15 -3.36 0Z" transform="translate(236.3 45.4) rotate(180)" fill="url(#lgG)"/>
<path d="M-3.36 0C-3.36 -3.15 1.18 -3.15 3.36 0C1.18 3.15 -3.36 3.15 -3.36 0Z" transform="translate(236.3 49.5) rotate(90)" fill="url(#lgG)"/>
<path d="M-5.04 0C-5.04 -3.15 1.76 -3.15 5.04 0C1.76 3.15 -5.04 3.15 -5.04 0Z" transform="translate(231.6 56.2) rotate(100)" fill="url(#lgPY)"/>
<path d="M-4.2 0C-4.2 -3.15 1.47 -3.15 4.2 0C1.47 3.15 -4.2 3.15 -4.2 0Z" transform="translate(235.6 53.5) rotate(90)" fill="url(#lgY)"/>
<path d="M-3.75 0C-3.75 -2.66 1.31 -2.66 3.75 0C1.31 2.66 -3.75 2.66 -3.75 0Z" transform="translate(247.7 50.8) rotate(90)" fill="url(#lgPY)"/>
<path d="M-4.2 0C-4.2 -2.66 1.47 -2.66 4.2 0C1.47 2.66 -4.2 2.66 -4.2 0Z" transform="translate(251 52.8) rotate(80)" fill="url(#lgPY)"/>
<path d="M-2.91 0C-2.91 -3.15 1.02 -3.15 2.91 0C1.02 3.15 -2.91 3.15 -2.91 0Z" transform="translate(241 68.9) rotate(0)" fill="url(#lgG)"/>
<path d="M-2.52 0C-2.52 -2.66 0.88 -2.66 2.52 0C0.88 2.66 -2.52 2.66 -2.52 0Z" transform="translate(237.6 72.3) rotate(180)" fill="url(#lgG)"/>
<path d="M-2.52 0C-2.52 -3.15 0.88 -3.15 2.52 0C0.88 3.15 -2.52 3.15 -2.52 0Z" transform="translate(241.6 74.9) rotate(0)" fill="url(#lgG)"/>
<path d="M-2.91 0C-2.91 -3.64 1.02 -3.64 2.91 0C1.02 3.64 -2.91 3.64 -2.91 0Z" transform="translate(242.3 79.6) rotate(0)" fill="url(#lgPY)"/>
<g filter="url(#rootblur)">
<path d="M283.8 113.5C284.53 114.23 287.1 116.08 288.2 117.9C289.3 119.72 289.87 122.4 290.4 124.4C290.93 126.4 291.4 128.53 291.4 129.9C291.4 131.27 290.57 132.15 290.4 132.6" stroke="#5e4430" stroke-width="0.8" fill="none"/>
<path d="M272.9 99.4C272.17 99.75 269.4 100.6 268.5 101.5C267.6 102.4 267.13 103.15 267.5 104.8C267.87 106.45 269.62 109.4 270.7 111.4C271.78 113.4 273.08 114.8 274 116.8C274.92 118.8 275.12 121.22 276.2 123.4C277.28 125.58 278.68 128.27 280.5 129.9C282.32 131.53 285.1 132.75 287.1 133.2C289.1 133.65 291.6 132.7 292.5 132.6" stroke="#a4652c" stroke-width="1.15" fill="none" stroke-linecap="round"/>
<path d="M273.5 100C273.95 100.98 275.38 104 276.2 105.9C277.02 107.8 278.22 109.58 278.4 111.4C278.58 113.22 277.67 114.98 277.3 116.8C276.93 118.62 276.02 120.48 276.2 122.3C276.38 124.12 277.13 126.07 278.4 127.7C279.67 129.33 282.9 131.37 283.8 132.1" stroke="#a4652c" stroke-width="1.15" fill="none" stroke-linecap="round"/>
<ellipse cx="276.4" cy="109" rx="1.8" ry="4" fill="#d8a040" opacity="0.85"/>
<ellipse cx="272.5" cy="100.5" rx="2" ry="1.5" fill="#c8a050" opacity="0.85"/>
<path d="M272.84 99.71C273 100.1 273.69 101.59 273.8 102.08C273.91 102.57 273.64 102.52 273.51 102.64C273.39 102.75 273.14 102.77 273.06 102.8" stroke="#b06a2a" stroke-width="0.55" fill="none" stroke-linecap="round" opacity="0.9"/>
<path d="M279.35 130.33C279.09 130.56 278.23 131.22 277.75 131.73C277.26 132.23 276.4 132.93 276.44 133.36C276.48 133.79 277.73 134.13 277.98 134.29" stroke="#d89848" stroke-width="0.52" fill="none" stroke-linecap="round" opacity="0.9"/>
<path d="M280.64 130.01C280.77 130.06 281.18 130.24 281.41 130.31C281.64 130.39 282.09 130.17 282.02 130.46C281.96 130.76 281.17 131.81 281 132.08" stroke="#d89848" stroke-width="0.52" fill="none" stroke-linecap="round" opacity="0.9"/>
<path d="M284.37 132C284.46 132.02 284.92 131.72 284.93 132.09C284.95 132.45 284.44 133.62 284.46 134.18C284.49 134.74 284.99 135.23 285.09 135.45" stroke="#c07830" stroke-width="0.69" fill="none" stroke-linecap="round" opacity="0.9"/>
<path d="M277.73 116.99C277.65 117.2 277.31 117.74 277.26 118.22C277.22 118.7 277.3 119.51 277.44 119.87C277.58 120.23 277.99 120.29 278.1 120.38" stroke="#8a5a30" stroke-width="0.77" fill="none" stroke-linecap="round" opacity="0.9"/>
<path d="M277.54 127.18C277.33 127.28 276.76 127.63 276.25 127.78C275.74 127.93 274.72 127.92 274.49 128.09C274.25 128.26 274.8 128.68 274.86 128.8" stroke="#5a3c24" stroke-width="0.52" fill="none" stroke-linecap="round" opacity="0.9"/>
<path d="M266.42 105.25C266.53 105.36 266.83 105.73 267.12 105.94C267.41 106.15 268.24 106.24 268.15 106.53C268.05 106.82 266.82 107.49 266.55 107.69" stroke="#b06a2a" stroke-width="0.67" fill="none" stroke-linecap="round" opacity="0.9"/>
<path d="M279.44 130.64C279.38 131.01 279.07 132.29 279.12 132.88C279.16 133.47 279.57 133.76 279.71 134.18C279.85 134.61 279.92 135.23 279.97 135.44" stroke="#b06a2a" stroke-width="0.71" fill="none" stroke-linecap="round" opacity="0.9"/>
<path d="M267.39 102.22C267.25 102.42 266.95 102.92 266.53 103.44C266.12 103.97 264.9 104.75 264.9 105.38C264.9 106.01 266.27 106.92 266.54 107.22" stroke="#5a3c24" stroke-width="0.77" fill="none" stroke-linecap="round" opacity="0.9"/>
<path d="M271.87 111.41C272 111.79 272.71 113.26 272.66 113.68C272.62 114.1 271.9 113.69 271.61 113.94C271.32 114.2 271.05 115.02 270.94 115.24" stroke="#b06a2a" stroke-width="0.67" fill="none" stroke-linecap="round" opacity="0.9"/>
<path d="M286.91 134.55C287.04 134.62 287.71 134.56 287.68 135.01C287.66 135.46 287.14 136.5 286.74 137.26C286.35 138.02 285.55 139.19 285.32 139.57" stroke="#b06a2a" stroke-width="0.48" fill="none" stroke-linecap="round" opacity="0.9"/>
<path d="M279.59 130.53C279.54 130.85 279.13 131.84 279.33 132.48C279.53 133.11 280.33 133.8 280.77 134.34C281.22 134.87 281.81 135.46 282.01 135.69" stroke="#b06a2a" stroke-width="0.67" fill="none" stroke-linecap="round" opacity="0.9"/>
<path d="M278.02 117.58C278.19 117.76 278.74 118.12 279.07 118.66C279.4 119.19 279.93 120.27 279.99 120.77C280.05 121.28 279.53 121.53 279.44 121.68" stroke="#8a5a30" stroke-width="0.49" fill="none" stroke-linecap="round" opacity="0.9"/>
<path d="M277.5 129.18C277.57 129.36 278.04 129.85 277.93 130.28C277.81 130.71 276.72 131.23 276.82 131.76C276.92 132.29 278.24 133.19 278.53 133.47" stroke="#e0b070" stroke-width="0.48" fill="none" stroke-linecap="round" opacity="0.9"/>
<path d="M272.39 99.94C272.23 99.96 271.37 99.95 271.43 100.05C271.49 100.15 272.29 100.07 272.75 100.56C273.21 101.04 273.93 102.56 274.17 102.96" stroke="#c07830" stroke-width="0.76" fill="none" stroke-linecap="round" opacity="0.9"/>
<path d="M291.43 133.04C291.63 133.18 292.31 133.75 292.68 133.9C293.06 134.05 293.71 133.66 293.67 133.96C293.64 134.26 292.68 135.41 292.48 135.7" stroke="#5a3c24" stroke-width="0.49" fill="none" stroke-linecap="round" opacity="0.9"/>
</g>
<path d="M273.8 32C274.02 34.02 275.33 39.63 275.1 44.1C274.87 48.57 273.4 54.33 272.4 58.8C271.4 63.27 269.53 66.03 269.1 70.9C268.67 75.77 269.32 83.23 269.8 88C270.28 92.77 271.63 97.58 272 99.5" stroke="#c0b878" stroke-width="1.0" fill="none"/>
<path d="M261 55.5L267.1 58.8" stroke="#c0b878" stroke-width="0.8"/>
<path d="M-7 0C-7 -4.2 2.45 -4.2 7 0C2.45 4.2 -7 4.2 -7 0Z" transform="translate(274.4 32.7) rotate(0)" fill="url(#lgG)"/>
<path d="M-2.91 0C-2.91 -3.15 1.02 -3.15 2.91 0C1.02 3.15 -2.91 3.15 -2.91 0Z" transform="translate(269.8 37.4) rotate(180)" fill="url(#lgG)"/>
<path d="M-2.91 0C-2.91 -3.64 1.02 -3.64 2.91 0C1.02 3.64 -2.91 3.64 -2.91 0Z" transform="translate(280.5 37.4) rotate(0)" fill="url(#lgG)"/>
<path d="M-3.36 0C-3.36 -4.2 1.18 -4.2 3.36 0C1.18 4.2 -3.36 4.2 -3.36 0Z" transform="translate(269.1 41.4) rotate(180)" fill="url(#lgG)"/>
<path d="M-5.32 0C-5.32 -5.25 1.86 -5.25 5.32 0C1.86 5.25 -5.32 5.25 -5.32 0Z" transform="translate(279.8 43.4) rotate(90)" fill="url(#lgG)"/>
<path d="M-4.2 0C-4.2 -4.2 1.47 -4.2 4.2 0C1.47 4.2 -4.2 4.2 -4.2 0Z" transform="translate(270.4 45.4) rotate(90)" fill="url(#lgG)"/>
<path d="M-5.88 0C-5.88 -2.66 2.06 -2.66 5.88 0C2.06 2.66 -5.88 2.66 -5.88 0Z" transform="translate(265.7 50.1) rotate(80)" fill="url(#lgYG)"/>
<path d="M-4.2 0C-4.2 -4.2 1.47 -4.2 4.2 0C1.47 4.2 -4.2 4.2 -4.2 0Z" transform="translate(272.4 56.2) rotate(180)" fill="url(#lgG)"/>
<path d="M-4.2 0C-4.2 -4.2 1.47 -4.2 4.2 0C1.47 4.2 -4.2 4.2 -4.2 0Z" transform="translate(275.1 59.5) rotate(90)" fill="url(#lgG)"/>
<path d="M-3.36 0C-3.36 -4.2 1.18 -4.2 3.36 0C1.18 4.2 -3.36 4.2 -3.36 0Z" transform="translate(267.7 73.6) rotate(180)" fill="url(#lgG)"/>
<path d="M-2.52 0C-2.52 -2.66 0.88 -2.66 2.52 0C0.88 2.66 -2.52 2.66 -2.52 0Z" transform="translate(272.4 72.3) rotate(90)" fill="url(#lgG)"/>
<g filter="url(#rootblur)">
<path d="M298.5 101C297.68 101.27 294.68 101.78 293.6 102.6C292.52 103.42 292 104.43 292 105.9C292 107.37 292.6 109.95 293.6 111.4C294.6 112.85 296.55 113.33 298 114.6C299.45 115.87 300.67 117.72 302.3 119C303.93 120.28 305.97 122.12 307.8 122.3C309.63 122.48 311.85 121.57 313.3 120.1C314.75 118.63 315.6 115.87 316.5 113.5C317.4 111.13 318.42 107.43 318.7 105.9C318.98 104.37 318.28 104.57 318.2 104.3" stroke="#5e4430" stroke-width="0.8" fill="none"/>
<path d="M299.5 103C299.92 104.17 301.83 108 302 110C302.17 112 299.9 113.13 300.5 115C301.1 116.87 304.75 120.17 305.6 121.2" stroke="#5e4430" stroke-width="0.8" fill="none"/>
<path d="M298.5 100.5C298.42 101.4 297.72 104.08 298 105.9C298.28 107.72 299.3 109.77 300.2 111.4C301.1 113.03 302.87 114.98 303.4 115.7" stroke="#a4652c" stroke-width="1.15" fill="none" stroke-linecap="round"/>
<ellipse cx="298.8" cy="103" rx="1.4" ry="2.5" fill="#a86a30" opacity="0.85"/>
<path d="M303.27 117.03C303.12 117.29 302.59 118.31 302.38 118.61C302.16 118.91 301.94 118.65 301.97 118.8C302 118.95 302.45 119.38 302.54 119.5" stroke="#b06a2a" stroke-width="0.57" fill="none" stroke-linecap="round" opacity="0.9"/>
<path d="M297.83 101.61C298.06 101.74 299.08 102 299.17 102.4C299.26 102.8 298.21 103.38 298.36 104.02C298.5 104.65 299.78 105.84 300.06 106.21" stroke="#5a3c24" stroke-width="0.74" fill="none" stroke-linecap="round" opacity="0.9"/>
<path d="M298.63 106.29C298.59 106.43 298.31 106.97 298.38 107.16C298.46 107.34 299.27 106.97 299.1 107.41C298.94 107.85 297.7 109.4 297.42 109.8" stroke="#5a3c24" stroke-width="0.58" fill="none" stroke-linecap="round" opacity="0.9"/>
<path d="M297.35 101.8C297.15 101.8 296.14 101.48 296.17 101.83C296.19 102.17 297.54 103.5 297.49 103.86C297.44 104.22 296.14 103.98 295.87 104.01" stroke="#c07830" stroke-width="0.59" fill="none" stroke-linecap="round" opacity="0.9"/>
<path d="M297.91 101.88C297.93 102.25 298.29 103.52 298.05 104.09C297.82 104.66 296.72 104.93 296.5 105.29C296.29 105.66 296.72 106.11 296.77 106.28" stroke="#b06a2a" stroke-width="0.63" fill="none" stroke-linecap="round" opacity="0.9"/>
<path d="M299.22 100.04C299.37 100.31 300.18 101.2 300.13 101.67C300.07 102.13 298.84 102.22 298.88 102.81C298.93 103.4 300.15 104.81 300.41 105.21" stroke="#d89848" stroke-width="0.77" fill="none" stroke-linecap="round" opacity="0.9"/>
<path d="M297.11 105.02C296.95 105.06 296.25 104.91 296.18 105.27C296.1 105.64 296.32 106.56 296.64 107.2C296.96 107.84 297.84 108.8 298.08 109.12" stroke="#5a3c24" stroke-width="0.65" fill="none" stroke-linecap="round" opacity="0.9"/>
<path d="M299.24 112.41C298.96 112.55 297.55 112.82 297.56 113.25C297.57 113.67 298.86 114.4 299.3 114.94C299.75 115.48 300.06 116.22 300.21 116.48" stroke="#e0b070" stroke-width="0.48" fill="none" stroke-linecap="round" opacity="0.9"/>
<path d="M303.08 117.16C302.92 117.53 302.43 118.85 302.12 119.36C301.82 119.86 301.47 119.85 301.25 120.2C301.03 120.56 300.87 121.28 300.8 121.49" stroke="#b06a2a" stroke-width="0.62" fill="none" stroke-linecap="round" opacity="0.9"/>
<path d="M297.79 105.03C297.82 105.19 297.76 105.65 297.96 106.01C298.16 106.37 298.88 106.83 298.97 107.2C299.07 107.56 298.59 108.02 298.51 108.19" stroke="#e0b070" stroke-width="0.85" fill="none" stroke-linecap="round" opacity="0.9"/>
<path d="M303.15 115.05C302.86 115.29 301.85 115.91 301.4 116.49C300.95 117.07 300.66 117.81 300.45 118.54C300.25 119.26 300.22 120.45 300.18 120.84" stroke="#c07830" stroke-width="0.75" fill="none" stroke-linecap="round" opacity="0.9"/>
<path d="M299.64 101.51C299.37 101.66 298.36 102.07 297.97 102.37C297.59 102.68 297.35 102.95 297.31 103.32C297.28 103.7 297.71 104.41 297.78 104.62" stroke="#c07830" stroke-width="0.6" fill="none" stroke-linecap="round" opacity="0.9"/>
<path d="M297.52 106.94C297.35 106.98 296.53 106.86 296.5 107.15C296.46 107.44 297.36 108.28 297.3 108.67C297.25 109.06 296.35 109.35 296.16 109.49" stroke="#e0b070" stroke-width="0.72" fill="none" stroke-linecap="round" opacity="0.9"/>
<path d="M303.22 116.15C303.38 116.22 304.16 116.25 304.18 116.59C304.2 116.93 303.42 117.63 303.34 118.19C303.26 118.74 303.63 119.63 303.69 119.91" stroke="#8a5a30" stroke-width="0.6" fill="none" stroke-linecap="round" opacity="0.9"/>
<path d="M298.54 101.68C298.61 101.7 298.77 101.64 298.99 101.83C299.21 102.03 300.01 102.65 299.88 102.87C299.74 103.08 298.46 103.09 298.18 103.13" stroke="#b06a2a" stroke-width="0.54" fill="none" stroke-linecap="round" opacity="0.9"/>
<path d="M303.31 116.17C303.38 116.34 303.61 116.85 303.75 117.2C303.9 117.55 304.24 117.76 304.18 118.26C304.11 118.77 303.5 119.9 303.36 120.23" stroke="#5a3c24" stroke-width="0.69" fill="none" stroke-linecap="round" opacity="0.9"/>
</g>
<path d="M302.6 46.8C302.6 48.13 303.15 51.68 302.6 54.8C302.05 57.92 300.08 62.15 299.3 65.5C298.52 68.85 298.25 71.15 297.9 74.9C297.55 78.65 297.08 83.58 297.2 88C297.32 92.42 298.37 99.17 298.6 101.4" stroke="#c0b878" stroke-width="1.0" fill="none"/>
<path d="M292.5 66.2L297.9 68.2" stroke="#c0b878" stroke-width="0.8"/>
<path d="M-2.91 0C-2.91 -3.15 1.02 -3.15 2.91 0C1.02 3.15 -2.91 3.15 -2.91 0Z" transform="translate(302.6 46.1) rotate(0)" fill="url(#lgG)"/>
<path d="M-2.52 0C-2.52 -3.15 0.88 -3.15 2.52 0C0.88 3.15 -2.52 3.15 -2.52 0Z" transform="translate(306.6 49.5) rotate(0)" fill="url(#lgG)"/>
<path d="M-2.13 0C-2.13 -2.1 0.74 -2.1 2.13 0C0.74 2.1 -2.13 2.1 -2.13 0Z" transform="translate(301.3 50.1) rotate(180)" fill="url(#lgG)"/>
<path d="M-5.88 0C-5.88 -2.66 2.06 -2.66 5.88 0C2.06 2.66 -5.88 2.66 -5.88 0Z" transform="translate(305.3 62.2) rotate(90)" fill="url(#lgY)"/>
<path d="M-5.88 0C-5.88 -2.66 2.06 -2.66 5.88 0C2.06 2.66 -5.88 2.66 -5.88 0Z" transform="translate(310 65.5) rotate(75)" fill="url(#lgYO)"/>
<g filter="url(#rootblur)">
<path d="M330.2 104.4C330.98 104.87 333.33 105.78 334.9 107.2C336.47 108.62 338.18 111.33 339.6 112.9C341.02 114.47 342.62 115.35 343.4 116.6C344.18 117.85 343.83 119.3 344.3 120.4C344.77 121.5 345.1 122.73 346.2 123.2C347.3 123.67 349.48 123.67 350.9 123.2C352.32 122.73 353.6 121.82 354.7 120.4C355.8 118.98 357.03 115.65 357.5 114.7" stroke="#5e4430" stroke-width="0.8" fill="none"/>
<path d="M331.2 110C332.13 110.95 334.93 113.5 336.8 115.7C338.67 117.9 340.98 121.48 342.4 123.2C343.82 124.92 344.82 125.53 345.3 126" stroke="#5e4430" stroke-width="0.8" fill="none"/>
<path d="M344.3 118.5C345.4 118.35 349.02 117.92 350.9 117.6C352.78 117.28 354.82 116.77 355.6 116.6" stroke="#5e4430" stroke-width="0.8" fill="none"/>
<path d="M329.3 102.5C329.08 103.08 328.05 104.75 328 106C327.95 107.25 328.47 108.85 329 110C329.53 111.15 330.83 112.42 331.2 112.9" stroke="#a4652c" stroke-width="1.15" fill="none" stroke-linecap="round"/>
<ellipse cx="329.3" cy="107.5" rx="1.9" ry="5" fill="#d09030" opacity="0.85"/>
<path d="M328.81 102.65C328.59 103.05 327.92 104.37 327.5 105.04C327.07 105.7 326.4 106.1 326.25 106.65C326.11 107.21 326.55 108.08 326.61 108.37" stroke="#e0b070" stroke-width="0.77" fill="none" stroke-linecap="round" opacity="0.9"/>
<path d="M327.76 105.18C327.65 105.29 327.05 105.55 327.11 105.84C327.17 106.13 328.2 106.72 328.12 106.91C328.05 107.1 326.91 106.98 326.67 106.99" stroke="#8a5a30" stroke-width="0.56" fill="none" stroke-linecap="round" opacity="0.9"/>
<path d="M326.86 106.13C327.02 106.18 327.49 106.02 327.83 106.42C328.17 106.82 328.54 108.13 328.92 108.54C329.3 108.95 329.9 108.81 330.1 108.86" stroke="#5a3c24" stroke-width="0.54" fill="none" stroke-linecap="round" opacity="0.9"/>
<path d="M330.01 102.81C330.16 103.12 330.59 104.23 330.92 104.66C331.25 105.09 331.55 105.03 332 105.4C332.46 105.78 333.39 106.65 333.67 106.9" stroke="#8a5a30" stroke-width="0.83" fill="none" stroke-linecap="round" opacity="0.9"/>
<path d="M328.82 107.46C329.04 107.73 329.79 108.62 330.16 109.04C330.52 109.47 331.05 109.46 330.98 109.99C330.91 110.52 329.93 111.84 329.72 112.22" stroke="#8a5a30" stroke-width="0.67" fill="none" stroke-linecap="round" opacity="0.9"/>
<path d="M328.55 106.99C328.7 107.28 329.14 108.11 329.49 108.69C329.85 109.27 330.43 110.14 330.68 110.47C330.93 110.8 330.95 110.63 331.01 110.66" stroke="#e0b070" stroke-width="0.84" fill="none" stroke-linecap="round" opacity="0.9"/>
<path d="M328.25 103.87C328.1 103.92 327.22 103.85 327.35 104.16C327.49 104.47 328.5 105.15 329.05 105.75C329.59 106.34 330.35 107.41 330.62 107.74" stroke="#b06a2a" stroke-width="0.5" fill="none" stroke-linecap="round" opacity="0.9"/>
<path d="M330.69 112.08C330.63 112.29 330.61 112.85 330.34 113.32C330.07 113.79 329.41 114.38 329.05 114.9C328.69 115.42 328.33 116.17 328.18 116.42" stroke="#8a5a30" stroke-width="0.46" fill="none" stroke-linecap="round" opacity="0.9"/>
<path d="M329.97 109.12C330 109.13 330.26 108.99 330.12 109.16C329.99 109.34 329.49 109.98 329.18 110.17C328.87 110.37 328.43 110.32 328.27 110.35" stroke="#c07830" stroke-width="0.78" fill="none" stroke-linecap="round" opacity="0.9"/>
<path d="M330.81 113.72C330.53 114.03 329.36 115.07 329.12 115.58C328.88 116.09 329.26 116.54 329.36 116.79C329.45 117.05 329.64 117.05 329.7 117.1" stroke="#e0b070" stroke-width="0.8" fill="none" stroke-linecap="round" opacity="0.9"/>
<path d="M330.07 112.22C330.07 112.38 330.23 112.91 330.06 113.2C329.9 113.48 329.46 113.56 329.08 113.92C328.71 114.28 328.01 115.11 327.79 115.34" stroke="#5a3c24" stroke-width="0.76" fill="none" stroke-linecap="round" opacity="0.9"/>
<path d="M332.37 113.73C332.48 113.9 332.83 114.5 333.04 114.79C333.24 115.08 333.28 115.17 333.59 115.49C333.9 115.8 334.66 116.49 334.88 116.69" stroke="#5a3c24" stroke-width="0.81" fill="none" stroke-linecap="round" opacity="0.9"/>
<path d="M329.81 109.35C329.97 109.61 330.34 110.54 330.78 110.94C331.21 111.34 331.91 111.34 332.41 111.74C332.92 112.14 333.57 113.07 333.8 113.34" stroke="#e0b070" stroke-width="0.76" fill="none" stroke-linecap="round" opacity="0.9"/>
<path d="M330.15 102.21C330.36 102.55 330.96 103.69 331.36 104.29C331.77 104.9 332.67 105.21 332.59 105.82C332.52 106.42 331.2 107.58 330.92 107.93" stroke="#c07830" stroke-width="0.69" fill="none" stroke-linecap="round" opacity="0.9"/>
<path d="M330.05 101.69C330.15 101.9 330.5 102.42 330.61 102.91C330.73 103.41 330.76 104.27 330.75 104.68C330.73 105.09 330.56 105.27 330.52 105.39" stroke="#b06a2a" stroke-width="0.62" fill="none" stroke-linecap="round" opacity="0.9"/>
<path d="M328.51 109.78C328.23 109.9 327.11 110.18 326.82 110.51C326.52 110.84 326.52 111.2 326.73 111.76C326.94 112.33 327.87 113.53 328.09 113.88" stroke="#d89848" stroke-width="0.51" fill="none" stroke-linecap="round" opacity="0.9"/>
</g>
<path d="M338.9 44.1C338.45 45.88 337.32 51.67 336.2 54.8C335.08 57.93 333.2 59.98 332.2 62.9C331.2 65.82 330.75 68.12 330.2 72.3C329.65 76.48 329.12 83.05 328.9 88C328.68 92.95 328.9 99.67 328.9 102" stroke="#c0b878" stroke-width="1.0" fill="none"/>
<path d="M338.9 54.2L347 54.8" stroke="#c0b878" stroke-width="0.8"/>
<path d="M-3.36 0C-3.36 -3.15 1.18 -3.15 3.36 0C1.18 3.15 -3.36 3.15 -3.36 0Z" transform="translate(337.6 45.4) rotate(90)" fill="url(#lgG)"/>
<path d="M-3.36 0C-3.36 -2.66 1.18 -2.66 3.36 0C1.18 2.66 -3.36 2.66 -3.36 0Z" transform="translate(341.6 47.5) rotate(90)" fill="url(#lgG)"/>
<path d="M-5.04 0C-5.04 -3.15 1.76 -3.15 5.04 0C1.76 3.15 -5.04 3.15 -5.04 0Z" transform="translate(330.2 52.2) rotate(90)" fill="url(#lgYG)"/>
<path d="M-5.04 0C-5.04 -4.2 1.76 -4.2 5.04 0C1.76 4.2 -5.04 4.2 -5.04 0Z" transform="translate(334.2 51.5) rotate(90)" fill="url(#lgG)"/>
<path d="M-4.2 0C-4.2 -3.64 1.47 -3.64 4.2 0C1.47 3.64 -4.2 3.64 -4.2 0Z" transform="translate(326.2 61.6) rotate(90)" fill="url(#lgG)"/>
<path d="M-3.36 0C-3.36 -4.2 1.18 -4.2 3.36 0C1.18 4.2 -3.36 4.2 -3.36 0Z" transform="translate(332.9 60.9) rotate(180)" fill="url(#lgG)"/>
<path d="M-4.2 0C-4.2 -4.2 1.47 -4.2 4.2 0C1.47 4.2 -4.2 4.2 -4.2 0Z" transform="translate(328.9 65.6) rotate(90)" fill="url(#lgO)"/>
<path d="M-4.2 0C-4.2 -3.15 1.47 -3.15 4.2 0C1.47 3.15 -4.2 3.15 -4.2 0Z" transform="translate(335.6 58.9) rotate(180)" fill="url(#lgYG)"/>
<path d="M-4.2 0C-4.2 -3.15 1.47 -3.15 4.2 0C1.47 3.15 -4.2 3.15 -4.2 0Z" transform="translate(347 56.9) rotate(90)" fill="url(#lgO)"/>
<path d="M-4.2 0C-4.2 -3.15 1.47 -3.15 4.2 0C1.47 3.15 -4.2 3.15 -4.2 0Z" transform="translate(347.7 62.2) rotate(90)" fill="url(#lgO)"/>
<path d="M-3.75 0C-3.75 -2.66 1.31 -2.66 3.75 0C1.31 2.66 -3.75 2.66 -3.75 0Z" transform="translate(343 65.6) rotate(90)" fill="url(#lgY)"/>
<path d="M-3.36 0C-3.36 -2.66 1.18 -2.66 3.36 0C1.18 2.66 -3.36 2.66 -3.36 0Z" transform="translate(326.8 68.9) rotate(180)" fill="url(#lgY)"/>
<path d="M-2.91 0C-2.91 -2.66 1.02 -2.66 2.91 0C1.02 2.66 -2.91 2.66 -2.91 0Z" transform="translate(333.6 77.7) rotate(180)" fill="url(#lgY)"/>
<path d="M-2.52 0C-2.52 -2.66 0.88 -2.66 2.52 0C0.88 2.66 -2.52 2.66 -2.52 0Z" transform="translate(325.5 81) rotate(180)" fill="url(#lgO)"/>
</g>
<path d="M177 135.2H185.2M348.2 134.9H356.7" stroke="#eee" stroke-width="0.8"/>
<text x="7.2" y="8.6" class="pl">A</text>
<text x="40.1" y="23.7" text-anchor="middle" class="hd">WT</text>
<text x="71.8" y="23.7" text-anchor="middle" class="hd">EV</text>
<text x="106.3" y="23.7" text-anchor="middle" class="hd">OE</text>
<text x="135.5" y="23.7" text-anchor="middle" class="hd">V370D</text>
<text x="166.6" y="23.7" text-anchor="middle" class="hd">RNAi</text>
<text x="210.8" y="23.7" text-anchor="middle" class="hd">WT</text>
<text x="242.5" y="23.7" text-anchor="middle" class="hd">EV</text>
<text x="277.1" y="23.7" text-anchor="middle" class="hd">OE</text>
<text x="306.1" y="23.7" text-anchor="middle" class="hd">V370D</text>
<text x="338" y="23.7" text-anchor="middle" class="hd">RNAi</text>
<text x="134.5" y="8.3" text-anchor="middle" class="hd" font-style="italic">GmNARK</text>
<text x="305.2" y="8.3" text-anchor="middle" class="hd" font-style="italic">GmNARK</text>
<path d="M95.8 13.1H183.4M266.8 13.1H354.1" stroke="#1a1a1a" stroke-width="0.75"/>
<text x="13" y="147" class="hd" style="font-size:8.2px">NaHCO<tspan font-size="5.2" dy="1.5">3</tspan><tspan dy="-1.5"> (mM)</tspan></text>
<text x="102.2" y="147" text-anchor="middle" class="hd">0</text>
<text x="275.3" y="147.4" text-anchor="middle" class="hd">100</text>
<rect x="389.35" y="40.75" width="9.23" height="68.35" fill="url(#pWT)" stroke="#8a8a8a" stroke-width="0.5"/>
<path d="M393.96 39.52V41.98M391.56 39.52H396.36M391.56 41.98H396.36" stroke="#555" stroke-width="0.6" fill="none"/>
<text x="393.96" y="37.92" text-anchor="middle" class="sm">a</text>
<rect x="403.12" y="39.21" width="9.23" height="69.89" fill="url(#pEV)" stroke="#8a8a8a" stroke-width="0.5"/>
<path d="M407.73 37.98V40.44M405.33 37.98H410.13M405.33 40.44H410.13" stroke="#555" stroke-width="0.6" fill="none"/>
<text x="407.73" y="36.38" text-anchor="middle" class="sm">a</text>
<rect x="416.89" y="39.52" width="9.23" height="69.58" fill="url(#pOE)" stroke="#333" stroke-width="0.5"/>
<path d="M421.5 38.29V40.75M419.1 38.29H423.9M419.1 40.75H423.9" stroke="#222" stroke-width="0.6" fill="none"/>
<text x="421.5" y="36.69" text-anchor="middle" class="sm">a</text>
<rect x="430.66" y="39.21" width="9.23" height="69.89" fill="url(#pRN)" stroke="#8a8a8a" stroke-width="0.5"/>
<path d="M435.27 37.98V40.44M432.87 37.98H437.67M432.87 40.44H437.67" stroke="#555" stroke-width="0.6" fill="none"/>
<text x="435.27" y="36.38" text-anchor="middle" class="sm">a</text>
<rect x="444.43" y="39.21" width="9.23" height="69.89" fill="url(#pVD)" stroke="#8a8a8a" stroke-width="0.5"/>
<path d="M449.04 38.44V39.98M446.64 38.44H451.44M446.64 39.98H451.44" stroke="#555" stroke-width="0.6" fill="none"/>
<text x="449.04" y="36.84" text-anchor="middle" class="sm">a</text>
<rect x="467.15" y="62.25" width="9.23" height="46.85" fill="url(#pWT)" stroke="#8a8a8a" stroke-width="0.5"/>
<path d="M471.76 61.02V63.48M469.36 61.02H474.16M469.36 63.48H474.16" stroke="#555" stroke-width="0.6" fill="none"/>
<text x="471.76" y="59.42" text-anchor="middle" class="sm">d</text>
<rect x="480.92" y="66.09" width="9.23" height="43.01" fill="url(#pEV)" stroke="#8a8a8a" stroke-width="0.5"/>
<path d="M485.53 65.17V67.01M483.13 65.17H487.93M483.13 67.01H487.93" stroke="#555" stroke-width="0.6" fill="none"/>
<text x="485.53" y="63.57" text-anchor="middle" class="sm">de</text>
<rect x="494.69" y="48.43" width="9.23" height="60.67" fill="url(#pOE)" stroke="#333" stroke-width="0.5"/>
<path d="M499.3 47.2V49.66M496.9 47.2H501.7M496.9 49.66H501.7" stroke="#222" stroke-width="0.6" fill="none"/>
<text x="499.3" y="45.6" text-anchor="middle" class="sm">b</text>
<rect x="508.46" y="68.4" width="9.23" height="40.7" fill="url(#pRN)" stroke="#8a8a8a" stroke-width="0.5"/>
<path d="M513.07 67.01V69.78M510.67 67.01H515.47M510.67 69.78H515.47" stroke="#555" stroke-width="0.6" fill="none"/>
<text x="513.07" y="65.41" text-anchor="middle" class="sm">e</text>
<rect x="522.23" y="56.11" width="9.23" height="52.99" fill="url(#pVD)" stroke="#8a8a8a" stroke-width="0.5"/>
<path d="M526.84 55.19V57.03M524.44 55.19H529.24M524.44 57.03H529.24" stroke="#555" stroke-width="0.6" fill="none"/>
<text x="526.84" y="53.59" text-anchor="middle" class="sm">c</text>
<path d="M384.5 32V109.1H536.5" stroke="#111" stroke-width="1.1" fill="none"/>
<path d="M381.5 109.1H384.5" stroke="#111" stroke-width="0.9"/>
<text x="380.2" y="111.5" text-anchor="end" class="tk">0</text>
<path d="M381.5 93.74H384.5" stroke="#111" stroke-width="0.9"/>
<text x="380.2" y="96.14" text-anchor="end" class="tk">10</text>
<path d="M381.5 78.38H384.5" stroke="#111" stroke-width="0.9"/>
<text x="380.2" y="80.78" text-anchor="end" class="tk">20</text>
<path d="M381.5 63.02H384.5" stroke="#111" stroke-width="0.9"/>
<text x="380.2" y="65.42" text-anchor="end" class="tk">30</text>
<path d="M381.5 47.66H384.5" stroke="#111" stroke-width="0.9"/>
<text x="380.2" y="50.06" text-anchor="end" class="tk">40</text>
<path d="M381.5 32.3H384.5" stroke="#111" stroke-width="0.9"/>
<text x="380.2" y="34.7" text-anchor="end" class="tk">50</text>
<path d="M421.5 109.1V112.1" stroke="#111" stroke-width="0.9"/>
<text x="421.5" y="119.2" text-anchor="middle" class="tk">0</text>
<path d="M499.3 109.1V112.1" stroke="#111" stroke-width="0.9"/>
<text x="499.3" y="119.2" text-anchor="middle" class="tk">100</text>
<text x="460.7" y="126.7" text-anchor="middle" class="tk">NaHCO<tspan font-size="4.2" dy="1.2">3</tspan><tspan dy="-1.2"> (mM)</tspan></text>
<text transform="translate(371.1 70.7) rotate(-90)" text-anchor="middle" class="tk">Chlorophyll Content SPAD</text>
<text x="367.3" y="9.5" class="pl">B</text>
<path d="M432.59 39.21V109.1" stroke="#7a7a7a" stroke-width="0.5"/>
<path d="M433.98 39.21V109.1" stroke="#c0c0c0" stroke-width="0.5"/>
<path d="M436.56 39.21V109.1" stroke="#c0c0c0" stroke-width="0.5"/>
<path d="M438.04 39.21V109.1" stroke="#7a7a7a" stroke-width="0.5"/>
<path d="M510.39 68.4V109.1" stroke="#7a7a7a" stroke-width="0.5"/>
<path d="M511.78 68.4V109.1" stroke="#c0c0c0" stroke-width="0.5"/>
<path d="M514.36 68.4V109.1" stroke="#c0c0c0" stroke-width="0.5"/>
<path d="M515.84 68.4V109.1" stroke="#7a7a7a" stroke-width="0.5"/>
<rect x="34.34" y="215.2" width="9.14" height="38.3" fill="url(#pWT)" stroke="#8a8a8a" stroke-width="0.5"/>
<path d="M38.91 213.98V216.41M36.51 213.98H41.31M36.51 216.41H41.31" stroke="#555" stroke-width="0.6" fill="none"/>
<text x="38.91" y="212.38" text-anchor="middle" class="sm">c</text>
<rect x="47.98" y="216.11" width="9.14" height="37.39" fill="url(#pEV)" stroke="#8a8a8a" stroke-width="0.5"/>
<path d="M52.55 215.5V216.72M50.15 215.5H54.95M50.15 216.72H54.95" stroke="#555" stroke-width="0.6" fill="none"/>
<text x="52.55" y="213.9" text-anchor="middle" class="sm">c</text>
<rect x="61.63" y="214.89" width="9.14" height="38.61" fill="url(#pOE)" stroke="#333" stroke-width="0.5"/>
<path d="M66.2 213.98V215.8M63.8 213.98H68.6M63.8 215.8H68.6" stroke="#222" stroke-width="0.6" fill="none"/>
<text x="66.2" y="212.38" text-anchor="middle" class="sm">bc</text>
<rect x="75.27" y="215.5" width="9.14" height="38" fill="url(#pRN)" stroke="#8a8a8a" stroke-width="0.5"/>
<path d="M79.85 214.59V216.41M77.45 214.59H82.25M77.45 216.41H82.25" stroke="#555" stroke-width="0.6" fill="none"/>
<text x="79.85" y="212.99" text-anchor="middle" class="sm">c</text>
<rect x="88.92" y="216.11" width="9.14" height="37.39" fill="url(#pVD)" stroke="#8a8a8a" stroke-width="0.5"/>
<path d="M93.49 214.59V217.63M91.09 214.59H95.89M91.09 217.63H95.89" stroke="#555" stroke-width="0.6" fill="none"/>
<text x="93.49" y="212.99" text-anchor="middle" class="sm">c</text>
<rect x="111.44" y="195.74" width="9.14" height="57.76" fill="url(#pWT)" stroke="#8a8a8a" stroke-width="0.5"/>
<path d="M116.01 193.61V197.87M113.61 193.61H118.41M113.61 197.87H118.41" stroke="#555" stroke-width="0.6" fill="none"/>
<text x="116.01" y="192.01" text-anchor="middle" class="sm">a</text>
<rect x="125.08" y="192.09" width="9.14" height="61.41" fill="url(#pEV)" stroke="#8a8a8a" stroke-width="0.5"/>
<path d="M129.65 191.48V192.7M127.25 191.48H132.05M127.25 192.7H132.05" stroke="#555" stroke-width="0.6" fill="none"/>
<text x="129.65" y="189.88" text-anchor="middle" class="sm">a</text>
<rect x="138.73" y="226.44" width="9.14" height="27.06" fill="url(#pOE)" stroke="#333" stroke-width="0.5"/>
<path d="M143.3 225.53V227.36M140.9 225.53H145.7M140.9 227.36H145.7" stroke="#222" stroke-width="0.6" fill="none"/>
<text x="143.3" y="223.93" text-anchor="middle" class="sm">d</text>
<rect x="152.37" y="195.44" width="9.14" height="58.06" fill="url(#pRN)" stroke="#8a8a8a" stroke-width="0.5"/>
<path d="M156.95 193.92V196.96M154.55 193.92H159.35M154.55 196.96H159.35" stroke="#555" stroke-width="0.6" fill="none"/>
<text x="156.95" y="192.32" text-anchor="middle" class="sm">a</text>
<rect x="166.02" y="211.55" width="9.14" height="41.95" fill="url(#pVD)" stroke="#8a8a8a" stroke-width="0.5"/>
<path d="M170.59 209.72V213.37M168.19 209.72H172.99M168.19 213.37H172.99" stroke="#555" stroke-width="0.6" fill="none"/>
<text x="170.59" y="208.12" text-anchor="middle" class="sm">b</text>
<path d="M29.4 177.2V253.5H180.4" stroke="#111" stroke-width="1.1" fill="none"/>
<path d="M26.4 253.5H29.4" stroke="#111" stroke-width="0.9"/>
<text x="25.1" y="255.9" text-anchor="end" class="tk">0</text>
<path d="M26.4 238.3H29.4" stroke="#111" stroke-width="0.9"/>
<text x="25.1" y="240.7" text-anchor="end" class="tk">5</text>
<path d="M26.4 223.1H29.4" stroke="#111" stroke-width="0.9"/>
<text x="25.1" y="225.5" text-anchor="end" class="tk">10</text>
<path d="M26.4 207.9H29.4" stroke="#111" stroke-width="0.9"/>
<text x="25.1" y="210.3" text-anchor="end" class="tk">15</text>
<path d="M26.4 192.7H29.4" stroke="#111" stroke-width="0.9"/>
<text x="25.1" y="195.1" text-anchor="end" class="tk">20</text>
<path d="M26.4 177.5H29.4" stroke="#111" stroke-width="0.9"/>
<text x="25.1" y="179.9" text-anchor="end" class="tk">25</text>
<path d="M66.2 253.5V256.5" stroke="#111" stroke-width="0.9"/>
<text x="66.2" y="263.8" text-anchor="middle" class="tk">0</text>
<path d="M143.3 253.5V256.5" stroke="#111" stroke-width="0.9"/>
<text x="143.3" y="263.8" text-anchor="middle" class="tk">100</text>
<text x="105.05" y="274.6" text-anchor="middle" class="tk">NaHCO<tspan font-size="4.2" dy="1.2">3</tspan><tspan dy="-1.2"> (mM)</tspan></text>
<text transform="translate(15.2 215.5) rotate(-90)" text-anchor="middle" class="tk">H<tspan font-size="4.2" dy="1.2">2</tspan><tspan dy="-1.2">O</tspan><tspan font-size="4.2" dy="1.2">2</tspan><tspan dy="-1.2">contents(μmol/g FW)</tspan></text>
<text x="4.3" y="168.6" class="pl">C</text>
<path d="M77.19 215.5V253.5" stroke="#7a7a7a" stroke-width="0.5"/>
<path d="M78.57 215.5V253.5" stroke="#c0c0c0" stroke-width="0.5"/>
<path d="M81.13 215.5V253.5" stroke="#c0c0c0" stroke-width="0.5"/>
<path d="M82.59 215.5V253.5" stroke="#7a7a7a" stroke-width="0.5"/>
<path d="M154.29 195.44V253.5" stroke="#7a7a7a" stroke-width="0.5"/>
<path d="M155.67 195.44V253.5" stroke="#c0c0c0" stroke-width="0.5"/>
<path d="M158.23 195.44V253.5" stroke="#c0c0c0" stroke-width="0.5"/>
<path d="M159.69 195.44V253.5" stroke="#7a7a7a" stroke-width="0.5"/>
<rect x="211.01" y="214.69" width="9.38" height="39.11" fill="url(#pWT)" stroke="#8a8a8a" stroke-width="0.5"/>
<path d="M215.7 213.66V215.71M213.3 213.66H218.1M213.3 215.71H218.1" stroke="#555" stroke-width="0.6" fill="none"/>
<text x="215.7" y="212.06" text-anchor="middle" class="sm">d</text>
<rect x="225.01" y="216.74" width="9.38" height="37.06" fill="url(#pEV)" stroke="#8a8a8a" stroke-width="0.5"/>
<path d="M229.7 216.23V217.26M227.3 216.23H232.1M227.3 217.26H232.1" stroke="#555" stroke-width="0.6" fill="none"/>
<text x="229.7" y="214.63" text-anchor="middle" class="sm">d</text>
<rect x="239.01" y="216.23" width="9.38" height="37.57" fill="url(#pOE)" stroke="#333" stroke-width="0.5"/>
<path d="M243.7 215.2V217.26M241.3 215.2H246.1M241.3 217.26H246.1" stroke="#222" stroke-width="0.6" fill="none"/>
<text x="243.7" y="213.6" text-anchor="middle" class="sm">d</text>
<rect x="253.01" y="215.71" width="9.38" height="38.09" fill="url(#pRN)" stroke="#8a8a8a" stroke-width="0.5"/>
<path d="M257.7 213.14V218.29M255.3 213.14H260.1M255.3 218.29H260.1" stroke="#555" stroke-width="0.6" fill="none"/>
<text x="257.7" y="211.54" text-anchor="middle" class="sm">d</text>
<rect x="267.01" y="214.69" width="9.38" height="39.11" fill="url(#pVD)" stroke="#8a8a8a" stroke-width="0.5"/>
<path d="M271.7 213.66V215.71M269.3 213.66H274.1M269.3 215.71H274.1" stroke="#555" stroke-width="0.6" fill="none"/>
<text x="271.7" y="212.06" text-anchor="middle" class="sm">d</text>
<rect x="290.11" y="191.53" width="9.38" height="62.27" fill="url(#pWT)" stroke="#8a8a8a" stroke-width="0.5"/>
<path d="M294.8 188.95V194.1M292.4 188.95H297.2M292.4 194.1H297.2" stroke="#555" stroke-width="0.6" fill="none"/>
<text x="294.8" y="187.35" text-anchor="middle" class="sm">ab</text>
<rect x="304.11" y="196.16" width="9.38" height="57.64" fill="url(#pEV)" stroke="#8a8a8a" stroke-width="0.5"/>
<path d="M308.8 195.13V197.19M306.4 195.13H311.2M306.4 197.19H311.2" stroke="#555" stroke-width="0.6" fill="none"/>
<text x="308.8" y="193.53" text-anchor="middle" class="sm">bc</text>
<rect x="318.11" y="214.69" width="9.38" height="39.11" fill="url(#pOE)" stroke="#333" stroke-width="0.5"/>
<path d="M322.8 214.17V215.2M320.4 214.17H325.2M320.4 215.2H325.2" stroke="#222" stroke-width="0.6" fill="none"/>
<text x="322.8" y="212.57" text-anchor="middle" class="sm">d</text>
<rect x="332.11" y="187.92" width="9.38" height="65.88" fill="url(#pRN)" stroke="#8a8a8a" stroke-width="0.5"/>
<path d="M336.8 186.89V188.95M334.4 186.89H339.2M334.4 188.95H339.2" stroke="#555" stroke-width="0.6" fill="none"/>
<text x="336.8" y="185.29" text-anchor="middle" class="sm">a</text>
<rect x="346.11" y="199.25" width="9.38" height="54.55" fill="url(#pVD)" stroke="#8a8a8a" stroke-width="0.5"/>
<path d="M350.8 197.7V200.79M348.4 197.7H353.2M348.4 200.79H353.2" stroke="#555" stroke-width="0.6" fill="none"/>
<text x="350.8" y="196.1" text-anchor="middle" class="sm">c</text>
<path d="M207.5 176.3V253.8H360" stroke="#111" stroke-width="1.1" fill="none"/>
<path d="M204.5 253.8H207.5" stroke="#111" stroke-width="0.9"/>
<text x="203.2" y="256.2" text-anchor="end" class="tk">0</text>
<path d="M204.5 228.07H207.5" stroke="#111" stroke-width="0.9"/>
<text x="203.2" y="230.47" text-anchor="end" class="tk">5</text>
<path d="M204.5 202.33H207.5" stroke="#111" stroke-width="0.9"/>
<text x="203.2" y="204.73" text-anchor="end" class="tk">10</text>
<path d="M204.5 176.6H207.5" stroke="#111" stroke-width="0.9"/>
<text x="203.2" y="179" text-anchor="end" class="tk">15</text>
<path d="M243.7 253.8V256.8" stroke="#111" stroke-width="0.9"/>
<text x="243.7" y="264.1" text-anchor="middle" class="tk">0</text>
<path d="M322.8 253.8V256.8" stroke="#111" stroke-width="0.9"/>
<text x="322.8" y="264.1" text-anchor="middle" class="tk">100</text>
<text x="283.55" y="274.9" text-anchor="middle" class="tk">NaHCO<tspan font-size="4.2" dy="1.2">3</tspan><tspan dy="-1.2"> (mM)</tspan></text>
<text transform="translate(192.9 215.2) rotate(-90)" text-anchor="middle" class="tk">O<tspan font-size="4.2" dy="1.2">2</tspan><tspan dy="-1.2"></tspan><tspan font-size="4.2" dy="-3.4">·−</tspan><tspan dy="2.2"> contents (μmol/g FW)</tspan></text>
<text x="182" y="168.5" class="pl">D</text>
<path d="M254.98 215.71V253.8" stroke="#7a7a7a" stroke-width="0.5"/>
<path d="M256.39 215.71V253.8" stroke="#c0c0c0" stroke-width="0.5"/>
<path d="M259.01 215.71V253.8" stroke="#c0c0c0" stroke-width="0.5"/>
<path d="M260.51 215.71V253.8" stroke="#7a7a7a" stroke-width="0.5"/>
<path d="M334.08 187.92V253.8" stroke="#7a7a7a" stroke-width="0.5"/>
<path d="M335.49 187.92V253.8" stroke="#c0c0c0" stroke-width="0.5"/>
<path d="M338.11 187.92V253.8" stroke="#c0c0c0" stroke-width="0.5"/>
<path d="M339.61 187.92V253.8" stroke="#7a7a7a" stroke-width="0.5"/>
<rect x="394.39" y="189.96" width="9.42" height="63.54" fill="url(#pWT)" stroke="#8a8a8a" stroke-width="0.5"/>
<path d="M399.09 188.01V191.92M396.69 188.01H401.49M396.69 191.92H401.49" stroke="#555" stroke-width="0.6" fill="none"/>
<text x="399.09" y="186.41" text-anchor="middle" class="sm">ab</text>
<rect x="408.44" y="191.92" width="9.42" height="61.58" fill="url(#pEV)" stroke="#8a8a8a" stroke-width="0.5"/>
<path d="M413.15 190.74V193.09M410.75 190.74H415.55M410.75 193.09H415.55" stroke="#555" stroke-width="0.6" fill="none"/>
<text x="413.15" y="189.14" text-anchor="middle" class="sm">ab</text>
<rect x="422.49" y="188.99" width="9.42" height="64.51" fill="url(#pOE)" stroke="#333" stroke-width="0.5"/>
<path d="M427.2 188.01V189.96M424.8 188.01H429.6M424.8 189.96H429.6" stroke="#222" stroke-width="0.6" fill="none"/>
<text x="427.2" y="186.41" text-anchor="middle" class="sm">a</text>
<rect x="436.55" y="189.96" width="9.42" height="63.54" fill="url(#pRN)" stroke="#8a8a8a" stroke-width="0.5"/>
<path d="M441.25 188.2V191.72M438.85 188.2H443.65M438.85 191.72H443.65" stroke="#555" stroke-width="0.6" fill="none"/>
<text x="441.25" y="186.6" text-anchor="middle" class="sm">ab</text>
<rect x="450.6" y="190.94" width="9.42" height="62.56" fill="url(#pVD)" stroke="#8a8a8a" stroke-width="0.5"/>
<path d="M455.31 188.59V193.29M452.91 188.59H457.71M452.91 193.29H457.71" stroke="#555" stroke-width="0.6" fill="none"/>
<text x="455.31" y="186.99" text-anchor="middle" class="sm">ab</text>
<rect x="473.79" y="193.87" width="9.42" height="59.63" fill="url(#pWT)" stroke="#8a8a8a" stroke-width="0.5"/>
<path d="M478.49 192.9V194.85M476.09 192.9H480.89M476.09 194.85H480.89" stroke="#555" stroke-width="0.6" fill="none"/>
<text x="478.49" y="191.3" text-anchor="middle" class="sm">b</text>
<rect x="487.84" y="191.92" width="9.42" height="61.58" fill="url(#pEV)" stroke="#8a8a8a" stroke-width="0.5"/>
<path d="M492.55 190.74V193.09M490.15 190.74H494.95M490.15 193.09H494.95" stroke="#555" stroke-width="0.6" fill="none"/>
<text x="492.55" y="189.14" text-anchor="middle" class="sm">ab</text>
<rect x="501.89" y="225.15" width="9.42" height="28.35" fill="url(#pOE)" stroke="#333" stroke-width="0.5"/>
<path d="M506.6 224.57V225.74M504.2 224.57H509M504.2 225.74H509" stroke="#222" stroke-width="0.6" fill="none"/>
<text x="506.6" y="222.97" text-anchor="middle" class="sm">d</text>
<rect x="515.95" y="214.4" width="9.42" height="39.1" fill="url(#pRN)" stroke="#8a8a8a" stroke-width="0.5"/>
<path d="M520.65 212.64V216.16M518.25 212.64H523.05M518.25 216.16H523.05" stroke="#555" stroke-width="0.6" fill="none"/>
<text x="520.65" y="211.04" text-anchor="middle" class="sm">c</text>
<rect x="530" y="220.27" width="9.42" height="33.23" fill="url(#pVD)" stroke="#8a8a8a" stroke-width="0.5"/>
<path d="M534.71 218.51V222.02M532.31 218.51H537.11M532.31 222.02H537.11" stroke="#555" stroke-width="0.6" fill="none"/>
<text x="534.71" y="216.91" text-anchor="middle" class="sm">d</text>
<path d="M390.2 175V253.5H544.7" stroke="#111" stroke-width="1.1" fill="none"/>
<path d="M387.2 253.5H390.2" stroke="#111" stroke-width="0.9"/>
<text x="385.9" y="255.9" text-anchor="end" class="tk">0</text>
<path d="M387.2 233.95H390.2" stroke="#111" stroke-width="0.9"/>
<text x="385.9" y="236.35" text-anchor="end" class="tk">10</text>
<path d="M387.2 214.4H390.2" stroke="#111" stroke-width="0.9"/>
<text x="385.9" y="216.8" text-anchor="end" class="tk">20</text>
<path d="M387.2 194.85H390.2" stroke="#111" stroke-width="0.9"/>
<text x="385.9" y="197.25" text-anchor="end" class="tk">30</text>
<path d="M387.2 175.3H390.2" stroke="#111" stroke-width="0.9"/>
<text x="385.9" y="177.7" text-anchor="end" class="tk">40</text>
<path d="M427.2 253.5V256.5" stroke="#111" stroke-width="0.9"/>
<text x="427.2" y="263.8" text-anchor="middle" class="tk">0</text>
<path d="M506.6 253.5V256.5" stroke="#111" stroke-width="0.9"/>
<text x="506.6" y="263.8" text-anchor="middle" class="tk">100</text>
<text x="467.2" y="274.6" text-anchor="middle" class="tk">NaHCO<tspan font-size="4.2" dy="1.2">3</tspan><tspan dy="-1.2"> (mM)</tspan></text>
<text transform="translate(376.9 214.4) rotate(-90)" text-anchor="middle" class="tk">MDA content(nmol g<tspan font-size="4.2" dy="-2.2">-1</tspan><tspan dy="2.2">FW)</tspan></text>
<text x="356.9" y="168.6" class="pl">E</text>
<path d="M438.52 189.96V253.5" stroke="#7a7a7a" stroke-width="0.5"/>
<path d="M439.93 189.96V253.5" stroke="#c0c0c0" stroke-width="0.5"/>
<path d="M442.57 189.96V253.5" stroke="#c0c0c0" stroke-width="0.5"/>
<path d="M444.08 189.96V253.5" stroke="#7a7a7a" stroke-width="0.5"/>
<path d="M517.92 214.4V253.5" stroke="#7a7a7a" stroke-width="0.5"/>
<path d="M519.33 214.4V253.5" stroke="#c0c0c0" stroke-width="0.5"/>
<path d="M521.97 214.4V253.5" stroke="#c0c0c0" stroke-width="0.5"/>
<path d="M523.48 214.4V253.5" stroke="#7a7a7a" stroke-width="0.5"/>
<rect x="33.65" y="330.34" width="9.17" height="72.86" fill="url(#pWT)" stroke="#8a8a8a" stroke-width="0.5"/>
<path d="M38.24 328.72V331.96M35.84 328.72H40.64M35.84 331.96H40.64" stroke="#555" stroke-width="0.6" fill="none"/>
<text x="38.24" y="327.12" text-anchor="middle" class="sm">c</text>
<rect x="47.34" y="331.15" width="9.17" height="72.05" fill="url(#pEV)" stroke="#8a8a8a" stroke-width="0.5"/>
<path d="M51.92 329.85V332.44M49.52 329.85H54.32M49.52 332.44H54.32" stroke="#555" stroke-width="0.6" fill="none"/>
<text x="51.92" y="328.25" text-anchor="middle" class="sm">c</text>
<rect x="61.02" y="328.39" width="9.17" height="74.81" fill="url(#pOE)" stroke="#333" stroke-width="0.5"/>
<path d="M65.6 327.1V329.69M63.2 327.1H68M63.2 329.69H68" stroke="#222" stroke-width="0.6" fill="none"/>
<text x="65.6" y="325.5" text-anchor="middle" class="sm">bc</text>
<rect x="74.7" y="328.72" width="9.17" height="74.48" fill="url(#pRN)" stroke="#8a8a8a" stroke-width="0.5"/>
<path d="M79.28 327.42V330.01M76.88 327.42H81.68M76.88 330.01H81.68" stroke="#555" stroke-width="0.6" fill="none"/>
<text x="79.28" y="325.82" text-anchor="middle" class="sm">bc</text>
<rect x="88.38" y="330.82" width="9.17" height="72.38" fill="url(#pVD)" stroke="#8a8a8a" stroke-width="0.5"/>
<path d="M92.96 329.53V332.12M90.56 329.53H95.36M90.56 332.12H95.36" stroke="#555" stroke-width="0.6" fill="none"/>
<text x="92.96" y="327.93" text-anchor="middle" class="sm">c</text>
<rect x="110.95" y="330.66" width="9.17" height="72.54" fill="url(#pWT)" stroke="#8a8a8a" stroke-width="0.5"/>
<path d="M115.54 329.37V331.96M113.14 329.37H117.94M113.14 331.96H117.94" stroke="#555" stroke-width="0.6" fill="none"/>
<text x="115.54" y="327.77" text-anchor="middle" class="sm">c</text>
<rect x="124.64" y="330.34" width="9.17" height="72.86" fill="url(#pEV)" stroke="#8a8a8a" stroke-width="0.5"/>
<path d="M129.22 329.04V331.63M126.82 329.04H131.62M126.82 331.63H131.62" stroke="#555" stroke-width="0.6" fill="none"/>
<text x="129.22" y="327.44" text-anchor="middle" class="sm">c</text>
<rect x="138.32" y="311.23" width="9.17" height="91.97" fill="url(#pOE)" stroke="#333" stroke-width="0.5"/>
<path d="M142.9 309.94V312.53M140.5 309.94H145.3M140.5 312.53H145.3" stroke="#222" stroke-width="0.6" fill="none"/>
<text x="142.9" y="308.34" text-anchor="middle" class="sm">a</text>
<rect x="152" y="336" width="9.17" height="67.2" fill="url(#pRN)" stroke="#8a8a8a" stroke-width="0.5"/>
<path d="M156.58 334.39V337.62M154.18 334.39H158.98M154.18 337.62H158.98" stroke="#555" stroke-width="0.6" fill="none"/>
<text x="156.58" y="332.79" text-anchor="middle" class="sm">d</text>
<rect x="165.68" y="324.67" width="9.17" height="78.53" fill="url(#pVD)" stroke="#8a8a8a" stroke-width="0.5"/>
<path d="M170.26 323.38V325.97M167.86 323.38H172.66M167.86 325.97H172.66" stroke="#555" stroke-width="0.6" fill="none"/>
<text x="170.26" y="321.78" text-anchor="middle" class="sm">b</text>
<path d="M28.8 305.75V403.2H179.2" stroke="#111" stroke-width="1.1" fill="none"/>
<path d="M25.8 403.2H28.8" stroke="#111" stroke-width="0.9"/>
<text x="24.5" y="405.6" text-anchor="end" class="tk">0</text>
<path d="M25.8 370.82H28.8" stroke="#111" stroke-width="0.9"/>
<text x="24.5" y="373.22" text-anchor="end" class="tk">200</text>
<path d="M25.8 338.43H28.8" stroke="#111" stroke-width="0.9"/>
<text x="24.5" y="340.83" text-anchor="end" class="tk">400</text>
<path d="M25.8 306.05H28.8" stroke="#111" stroke-width="0.9"/>
<text x="24.5" y="308.45" text-anchor="end" class="tk">600</text>
<path d="M65.6 403.2V406.2" stroke="#111" stroke-width="0.9"/>
<text x="65.6" y="412.8" text-anchor="middle" class="tk">0</text>
<path d="M142.9 403.2V406.2" stroke="#111" stroke-width="0.9"/>
<text x="142.9" y="412.8" text-anchor="middle" class="tk">100</text>
<text x="104.55" y="423.9" text-anchor="middle" class="tk">NaHCO<tspan font-size="4.2" dy="1.2">3</tspan><tspan dy="-1.2"> (mM)</tspan></text>
<text transform="translate(14.3 354.62) rotate(-90)" text-anchor="middle" class="tk">SOD activity(U.g<tspan font-size="4.2" dy="-2.2">-1</tspan><tspan dy="2.2"> FW)</tspan></text>
<text x="5.5" y="293.3" class="pl">F</text>
<path d="M76.62 328.72V403.2" stroke="#7a7a7a" stroke-width="0.5"/>
<path d="M78 328.72V403.2" stroke="#c0c0c0" stroke-width="0.5"/>
<path d="M80.56 328.72V403.2" stroke="#c0c0c0" stroke-width="0.5"/>
<path d="M82.03 328.72V403.2" stroke="#7a7a7a" stroke-width="0.5"/>
<path d="M153.92 336V403.2" stroke="#7a7a7a" stroke-width="0.5"/>
<path d="M155.3 336V403.2" stroke="#c0c0c0" stroke-width="0.5"/>
<path d="M157.86 336V403.2" stroke="#c0c0c0" stroke-width="0.5"/>
<path d="M159.33 336V403.2" stroke="#7a7a7a" stroke-width="0.5"/>
<rect x="210.71" y="336.63" width="9.24" height="66.47" fill="url(#pWT)" stroke="#8a8a8a" stroke-width="0.5"/>
<path d="M215.32 334.14V339.13M212.92 334.14H217.72M212.92 339.13H217.72" stroke="#555" stroke-width="0.6" fill="none"/>
<text x="215.32" y="332.54" text-anchor="middle" class="sm">bc</text>
<rect x="224.49" y="336.63" width="9.24" height="66.47" fill="url(#pEV)" stroke="#8a8a8a" stroke-width="0.5"/>
<path d="M229.11 335.3V337.96M226.71 335.3H231.51M226.71 337.96H231.51" stroke="#555" stroke-width="0.6" fill="none"/>
<text x="229.11" y="333.7" text-anchor="middle" class="sm">bc</text>
<rect x="238.28" y="336.63" width="9.24" height="66.47" fill="url(#pOE)" stroke="#333" stroke-width="0.5"/>
<path d="M242.9 335.3V337.96M240.5 335.3H245.3M240.5 337.96H245.3" stroke="#222" stroke-width="0.6" fill="none"/>
<text x="242.9" y="333.7" text-anchor="middle" class="sm">bc</text>
<rect x="252.07" y="336.97" width="9.24" height="66.13" fill="url(#pRN)" stroke="#8a8a8a" stroke-width="0.5"/>
<path d="M256.69 334.47V339.46M254.29 334.47H259.09M254.29 339.46H259.09" stroke="#555" stroke-width="0.6" fill="none"/>
<text x="256.69" y="332.87" text-anchor="middle" class="sm">bc</text>
<rect x="265.86" y="336.63" width="9.24" height="66.47" fill="url(#pVD)" stroke="#8a8a8a" stroke-width="0.5"/>
<path d="M270.48 334.64V338.63M268.08 334.64H272.88M268.08 338.63H272.88" stroke="#555" stroke-width="0.6" fill="none"/>
<text x="270.48" y="333.04" text-anchor="middle" class="sm">bc</text>
<rect x="288.61" y="335.8" width="9.24" height="67.3" fill="url(#pWT)" stroke="#8a8a8a" stroke-width="0.5"/>
<path d="M293.22 333.81V337.8M290.82 333.81H295.62M290.82 337.8H295.62" stroke="#555" stroke-width="0.6" fill="none"/>
<text x="293.22" y="332.21" text-anchor="middle" class="sm">b</text>
<rect x="302.39" y="334.47" width="9.24" height="68.63" fill="url(#pEV)" stroke="#8a8a8a" stroke-width="0.5"/>
<path d="M307.01 333.14V335.8M304.61 333.14H309.41M304.61 335.8H309.41" stroke="#555" stroke-width="0.6" fill="none"/>
<text x="307.01" y="331.54" text-anchor="middle" class="sm">b</text>
<rect x="316.18" y="313.37" width="9.24" height="89.73" fill="url(#pOE)" stroke="#333" stroke-width="0.5"/>
<path d="M320.8 312.04V314.7M318.4 312.04H323.2M318.4 314.7H323.2" stroke="#222" stroke-width="0.6" fill="none"/>
<text x="320.8" y="310.44" text-anchor="middle" class="sm">a</text>
<rect x="329.97" y="342.95" width="9.24" height="60.15" fill="url(#pRN)" stroke="#8a8a8a" stroke-width="0.5"/>
<path d="M334.59 340.95V344.94M332.19 340.95H336.99M332.19 344.94H336.99" stroke="#555" stroke-width="0.6" fill="none"/>
<text x="334.59" y="339.35" text-anchor="middle" class="sm">c</text>
<rect x="343.76" y="338.29" width="9.24" height="64.81" fill="url(#pVD)" stroke="#8a8a8a" stroke-width="0.5"/>
<path d="M348.38 336.3V340.29M345.98 336.3H350.78M345.98 340.29H350.78" stroke="#555" stroke-width="0.6" fill="none"/>
<text x="348.38" y="334.7" text-anchor="middle" class="sm">bc</text>
<path d="M206.2 303.1V403.1H357.5" stroke="#111" stroke-width="1.1" fill="none"/>
<path d="M203.2 403.1H206.2" stroke="#111" stroke-width="0.9"/>
<text x="201.9" y="405.5" text-anchor="end" class="tk">0</text>
<path d="M203.2 369.87H206.2" stroke="#111" stroke-width="0.9"/>
<text x="201.9" y="372.27" text-anchor="end" class="tk">200</text>
<path d="M203.2 336.63H206.2" stroke="#111" stroke-width="0.9"/>
<text x="201.9" y="339.03" text-anchor="end" class="tk">400</text>
<path d="M203.2 303.4H206.2" stroke="#111" stroke-width="0.9"/>
<text x="201.9" y="305.8" text-anchor="end" class="tk">600</text>
<path d="M242.9 403.1V406.1" stroke="#111" stroke-width="0.9"/>
<text x="242.9" y="412.7" text-anchor="middle" class="tk">0</text>
<path d="M320.8 403.1V406.1" stroke="#111" stroke-width="0.9"/>
<text x="320.8" y="412.7" text-anchor="middle" class="tk">100</text>
<text x="282.15" y="423.8" text-anchor="middle" class="tk">NaHCO<tspan font-size="4.2" dy="1.2">3</tspan><tspan dy="-1.2"> (mM)</tspan></text>
<text transform="translate(189.5 353.25) rotate(-90)" text-anchor="middle" class="tk">CAT(μmol/min/g FW)</text>
<text x="181.6" y="293" class="pl">G</text>
<path d="M254.01 336.97V403.1" stroke="#7a7a7a" stroke-width="0.5"/>
<path d="M255.39 336.97V403.1" stroke="#c0c0c0" stroke-width="0.5"/>
<path d="M257.98 336.97V403.1" stroke="#c0c0c0" stroke-width="0.5"/>
<path d="M259.46 336.97V403.1" stroke="#7a7a7a" stroke-width="0.5"/>
<path d="M331.91 342.95V403.1" stroke="#7a7a7a" stroke-width="0.5"/>
<path d="M333.29 342.95V403.1" stroke="#c0c0c0" stroke-width="0.5"/>
<path d="M335.88 342.95V403.1" stroke="#c0c0c0" stroke-width="0.5"/>
<path d="M337.36 342.95V403.1" stroke="#7a7a7a" stroke-width="0.5"/>
<rect x="394.1" y="346.29" width="9.15" height="57.51" fill="url(#pWT)" stroke="#8a8a8a" stroke-width="0.5"/>
<path d="M398.67 345.09V347.48M396.27 345.09H401.07M396.27 347.48H401.07" stroke="#555" stroke-width="0.6" fill="none"/>
<text x="398.67" y="343.49" text-anchor="middle" class="sm">c</text>
<rect x="407.76" y="347.78" width="9.15" height="56.02" fill="url(#pEV)" stroke="#8a8a8a" stroke-width="0.5"/>
<path d="M412.34 346.88V348.67M409.94 346.88H414.74M409.94 348.67H414.74" stroke="#555" stroke-width="0.6" fill="none"/>
<text x="412.34" y="345.28" text-anchor="middle" class="sm">cd</text>
<rect x="421.42" y="348.07" width="9.15" height="55.73" fill="url(#pOE)" stroke="#333" stroke-width="0.5"/>
<path d="M426 347.18V348.97M423.6 347.18H428.4M423.6 348.97H428.4" stroke="#222" stroke-width="0.6" fill="none"/>
<text x="426" y="345.58" text-anchor="middle" class="sm">cd</text>
<rect x="435.09" y="348.67" width="9.15" height="55.13" fill="url(#pRN)" stroke="#8a8a8a" stroke-width="0.5"/>
<path d="M439.66 346.29V351.05M437.26 346.29H442.06M437.26 351.05H442.06" stroke="#555" stroke-width="0.6" fill="none"/>
<text x="439.66" y="344.69" text-anchor="middle" class="sm">cd</text>
<rect x="448.75" y="346.29" width="9.15" height="57.51" fill="url(#pVD)" stroke="#8a8a8a" stroke-width="0.5"/>
<path d="M453.33 344.5V348.07M450.93 344.5H455.73M450.93 348.07H455.73" stroke="#555" stroke-width="0.6" fill="none"/>
<text x="453.33" y="342.9" text-anchor="middle" class="sm">c</text>
<rect x="471.3" y="344.5" width="9.15" height="59.3" fill="url(#pWT)" stroke="#8a8a8a" stroke-width="0.5"/>
<path d="M475.87 343.31V345.69M473.47 343.31H478.27M473.47 345.69H478.27" stroke="#555" stroke-width="0.6" fill="none"/>
<text x="475.87" y="341.71" text-anchor="middle" class="sm">bc</text>
<rect x="484.96" y="346.58" width="9.15" height="57.22" fill="url(#pEV)" stroke="#8a8a8a" stroke-width="0.5"/>
<path d="M489.54 345.69V347.48M487.14 345.69H491.94M487.14 347.48H491.94" stroke="#555" stroke-width="0.6" fill="none"/>
<text x="489.54" y="344.09" text-anchor="middle" class="sm">c</text>
<rect x="498.62" y="315.59" width="9.15" height="88.21" fill="url(#pOE)" stroke="#333" stroke-width="0.5"/>
<path d="M503.2 314.4V316.78M500.8 314.4H505.6M500.8 316.78H505.6" stroke="#222" stroke-width="0.6" fill="none"/>
<text x="503.2" y="312.8" text-anchor="middle" class="sm">a</text>
<rect x="512.29" y="352.54" width="9.15" height="51.26" fill="url(#pRN)" stroke="#8a8a8a" stroke-width="0.5"/>
<path d="M516.86 351.05V354.03M514.46 351.05H519.26M514.46 354.03H519.26" stroke="#555" stroke-width="0.6" fill="none"/>
<text x="516.86" y="349.45" text-anchor="middle" class="sm">d</text>
<rect x="525.95" y="339.73" width="9.15" height="64.07" fill="url(#pVD)" stroke="#8a8a8a" stroke-width="0.5"/>
<path d="M530.53 337.05V342.41M528.13 337.05H532.93M528.13 342.41H532.93" stroke="#555" stroke-width="0.6" fill="none"/>
<text x="530.53" y="335.45" text-anchor="middle" class="sm">b</text>
<path d="M389.7 284.3V403.8H540" stroke="#111" stroke-width="1.1" fill="none"/>
<path d="M386.7 403.8H389.7" stroke="#111" stroke-width="0.9"/>
<text x="385.4" y="406.2" text-anchor="end" class="tk">0</text>
<path d="M386.7 374H389.7" stroke="#111" stroke-width="0.9"/>
<text x="385.4" y="376.4" text-anchor="end" class="tk">1000</text>
<path d="M386.7 344.2H389.7" stroke="#111" stroke-width="0.9"/>
<text x="385.4" y="346.6" text-anchor="end" class="tk">2000</text>
<path d="M386.7 314.4H389.7" stroke="#111" stroke-width="0.9"/>
<text x="385.4" y="316.8" text-anchor="end" class="tk">3000</text>
<path d="M386.7 284.6H389.7" stroke="#111" stroke-width="0.9"/>
<text x="385.4" y="287" text-anchor="end" class="tk">4000</text>
<path d="M426 403.8V406.8" stroke="#111" stroke-width="0.9"/>
<text x="426" y="413.4" text-anchor="middle" class="tk">0</text>
<path d="M503.2 403.8V406.8" stroke="#111" stroke-width="0.9"/>
<text x="503.2" y="413.4" text-anchor="middle" class="tk">100</text>
<text x="464.9" y="424.5" text-anchor="middle" class="tk">NaHCO<tspan font-size="4.2" dy="1.2">3</tspan><tspan dy="-1.2"> (mM)</tspan></text>
<text transform="translate(369.3 344.2) rotate(-90)" text-anchor="middle" class="tk">POD activity(U.g<tspan font-size="4.2" dy="-2.2">-1</tspan><tspan dy="2.2"> FW)</tspan></text>
<text x="357" y="292.7" class="pl">H</text>
<path d="M437.01 348.67V403.8" stroke="#7a7a7a" stroke-width="0.5"/>
<path d="M438.38 348.67V403.8" stroke="#c0c0c0" stroke-width="0.5"/>
<path d="M440.95 348.67V403.8" stroke="#c0c0c0" stroke-width="0.5"/>
<path d="M442.41 348.67V403.8" stroke="#7a7a7a" stroke-width="0.5"/>
<path d="M514.21 352.54V403.8" stroke="#7a7a7a" stroke-width="0.5"/>
<path d="M515.58 352.54V403.8" stroke="#c0c0c0" stroke-width="0.5"/>
<path d="M518.15 352.54V403.8" stroke="#c0c0c0" stroke-width="0.5"/>
<path d="M519.61 352.54V403.8" stroke="#7a7a7a" stroke-width="0.5"/>
<rect x="74.3" y="436.3" width="10.2" height="4.4" fill="#fff" stroke="#777" stroke-width="0.6"/>
<rect x="143.7" y="436.3" width="10.2" height="4.4" fill="url(#pEVL)" stroke="#777" stroke-width="0.5"/>
<rect x="209" y="436.3" width="10.2" height="4.4" fill="url(#pOE)" stroke="#333" stroke-width="0.5"/>
<rect x="300.2" y="436.3" width="10.2" height="4.4" fill="#fff" stroke="#777" stroke-width="0.6"/>
<path d="M302.7 436.3V440.7M305.3 436.3V440.7M307.9 436.3V440.7" stroke="#888" stroke-width="0.5"/>
<rect x="395.5" y="436.3" width="10.2" height="4.4" fill="url(#pVD)" stroke="#888" stroke-width="0.5"/>
<text x="90" y="441" class="lg">WT</text>
<text x="159.2" y="441" class="lg">EV</text>
<text x="224.7" y="441" class="lg">Gm<tspan font-style="italic">NARK</tspan>-OE</text>
<text x="315.8" y="441" class="lg">Gm<tspan font-style="italic">NARK</tspan>-RNAi</text>
<text x="410.7" y="441" class="lg">Gm<tspan font-style="italic">NARK</tspan>-V370D</text>
</svg></body></html>
